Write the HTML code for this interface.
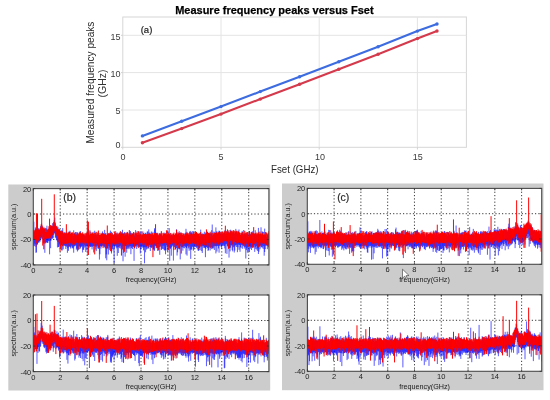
<!DOCTYPE html>
<html><head><meta charset="utf-8"><style>
html,body{margin:0;padding:0;background:#fff;width:550px;height:400px;overflow:hidden}
svg{display:block}
</style></head><body>
<svg width="550" height="400" viewBox="0 0 550 400" font-family="'Liberation Sans', Arial, sans-serif">
<rect width="550" height="400" fill="#fff"/>
<rect x="122.8" y="17.0" width="343.6" height="130.3" fill="#fff" stroke="#d6d6d6" stroke-width="1"/><line x1="221.0" y1="17.0" x2="221.0" y2="147.3" stroke="#e4e4e4" stroke-width="1"/><line x1="122.8" y1="110.0" x2="466.4" y2="110.0" stroke="#e4e4e4" stroke-width="1"/><line x1="319.2" y1="17.0" x2="319.2" y2="147.3" stroke="#e4e4e4" stroke-width="1"/><line x1="122.8" y1="72.6" x2="466.4" y2="72.6" stroke="#e4e4e4" stroke-width="1"/><line x1="417.4" y1="17.0" x2="417.4" y2="147.3" stroke="#e4e4e4" stroke-width="1"/><line x1="122.8" y1="35.3" x2="466.4" y2="35.3" stroke="#e4e4e4" stroke-width="1"/><polyline points="142.4,135.9 181.7,121.3 221.0,106.6 260.3,91.6 299.6,76.7 338.8,61.8 378.1,46.8 417.4,31.1 437.0,24.0" fill="none" stroke="#3d6ce0" stroke-width="2.1" stroke-linejoin="round"/><circle cx="142.4" cy="135.9" r="1.7" fill="#3d6ce0"/><circle cx="181.7" cy="121.3" r="1.7" fill="#3d6ce0"/><circle cx="221.0" cy="106.6" r="1.7" fill="#3d6ce0"/><circle cx="260.3" cy="91.6" r="1.7" fill="#3d6ce0"/><circle cx="299.6" cy="76.7" r="1.7" fill="#3d6ce0"/><circle cx="338.8" cy="61.8" r="1.7" fill="#3d6ce0"/><circle cx="378.1" cy="46.8" r="1.7" fill="#3d6ce0"/><circle cx="417.4" cy="31.1" r="1.7" fill="#3d6ce0"/><circle cx="437.0" cy="24.0" r="1.7" fill="#3d6ce0"/><polyline points="142.4,142.8 181.7,128.6 221.0,114.1 260.3,99.1 299.6,84.2 338.8,69.2 378.1,54.3 417.4,38.6 437.0,31.0" fill="none" stroke="#d43a4b" stroke-width="2.1" stroke-linejoin="round"/><circle cx="142.4" cy="142.8" r="1.7" fill="#d43a4b"/><circle cx="181.7" cy="128.6" r="1.7" fill="#d43a4b"/><circle cx="221.0" cy="114.1" r="1.7" fill="#d43a4b"/><circle cx="260.3" cy="99.1" r="1.7" fill="#d43a4b"/><circle cx="299.6" cy="84.2" r="1.7" fill="#d43a4b"/><circle cx="338.8" cy="69.2" r="1.7" fill="#d43a4b"/><circle cx="378.1" cy="54.3" r="1.7" fill="#d43a4b"/><circle cx="417.4" cy="38.6" r="1.7" fill="#d43a4b"/><circle cx="437.0" cy="31.0" r="1.7" fill="#d43a4b"/><text x="123.1" y="160.0" font-size="9" text-anchor="middle" fill="#3a3a3a">0</text><line x1="122.8" y1="147.3" x2="122.8" y2="149.5" stroke="#d0d0d0" stroke-width="1"/><text x="221.1" y="160.0" font-size="9" text-anchor="middle" fill="#3a3a3a">5</text><line x1="221.0" y1="147.3" x2="221.0" y2="149.5" stroke="#d0d0d0" stroke-width="1"/><text x="320.0" y="160.0" font-size="9" text-anchor="middle" fill="#3a3a3a">10</text><line x1="319.2" y1="147.3" x2="319.2" y2="149.5" stroke="#d0d0d0" stroke-width="1"/><text x="417.8" y="160.0" font-size="9" text-anchor="middle" fill="#3a3a3a">15</text><line x1="417.4" y1="147.3" x2="417.4" y2="149.5" stroke="#d0d0d0" stroke-width="1"/><text x="120.6" y="148.3" font-size="9" text-anchor="end" fill="#3a3a3a">0</text><line x1="121.0" y1="147.3" x2="122.8" y2="147.3" stroke="#d0d0d0" stroke-width="1"/><text x="120.6" y="114.2" font-size="9" text-anchor="end" fill="#3a3a3a">5</text><line x1="121.0" y1="110.0" x2="122.8" y2="110.0" stroke="#d0d0d0" stroke-width="1"/><text x="120.6" y="77.0" font-size="9" text-anchor="end" fill="#3a3a3a">10</text><line x1="121.0" y1="72.6" x2="122.8" y2="72.6" stroke="#d0d0d0" stroke-width="1"/><text x="120.6" y="39.9" font-size="9" text-anchor="end" fill="#3a3a3a">15</text><line x1="121.0" y1="35.3" x2="122.8" y2="35.3" stroke="#d0d0d0" stroke-width="1"/><text x="146.5" y="32.6" font-size="9.5" text-anchor="middle" fill="#222" stroke="#222" stroke-width="0.2">(a)</text><text x="294.8" y="172.6" font-size="10.5" text-anchor="middle" fill="#2a2a2a" textLength="47.5" lengthAdjust="spacingAndGlyphs">Fset (GHz)</text><text transform="translate(93.6,82.6) rotate(-90)" font-size="10.5" text-anchor="middle" fill="#2a2a2a" textLength="122" lengthAdjust="spacingAndGlyphs">Measured frequency peaks</text><text transform="translate(106,83.4) rotate(-90)" font-size="10.5" text-anchor="middle" fill="#333">(GHz)</text><text x="175.2" y="13.7" font-size="11.6" font-weight="bold" fill="#000" stroke="#000" stroke-width="0.25" textLength="198.4" lengthAdjust="spacingAndGlyphs">Measure frequency peaks versus Fset</text>
<defs><filter id="bl" x="0" y="0" width="1" height="1"><feGaussianBlur stdDeviation="0.4"/></filter></defs>
<g filter="url(#bl)">
<rect x="8.3" y="184.5" width="261.9" height="206" fill="#cccccc"/>
<rect x="282" y="183.5" width="261.5" height="206.7" fill="#cccccc"/>
<rect x="33.3" y="188.6" width="235.60" height="76.30" fill="#fff"/><line x1="60.23" y1="188.6" x2="60.23" y2="264.9" stroke="#222" stroke-width="0.9" stroke-dasharray="1.2,2.1"/><line x1="87.15" y1="188.6" x2="87.15" y2="264.9" stroke="#222" stroke-width="0.9" stroke-dasharray="1.2,2.1"/><line x1="114.08" y1="188.6" x2="114.08" y2="264.9" stroke="#222" stroke-width="0.9" stroke-dasharray="1.2,2.1"/><line x1="141.00" y1="188.6" x2="141.00" y2="264.9" stroke="#222" stroke-width="0.9" stroke-dasharray="1.2,2.1"/><line x1="167.93" y1="188.6" x2="167.93" y2="264.9" stroke="#222" stroke-width="0.9" stroke-dasharray="1.2,2.1"/><line x1="194.85" y1="188.6" x2="194.85" y2="264.9" stroke="#222" stroke-width="0.9" stroke-dasharray="1.2,2.1"/><line x1="221.78" y1="188.6" x2="221.78" y2="264.9" stroke="#222" stroke-width="0.9" stroke-dasharray="1.2,2.1"/><line x1="248.71" y1="188.6" x2="248.71" y2="264.9" stroke="#222" stroke-width="0.9" stroke-dasharray="1.2,2.1"/><line x1="33.3" y1="214.03" x2="268.9" y2="214.03" stroke="#222" stroke-width="0.9" stroke-dasharray="1.2,2.1"/><line x1="33.3" y1="239.47" x2="268.9" y2="239.47" stroke="#222" stroke-width="0.9" stroke-dasharray="1.2,2.1"/><svg x="33.3" y="188.6" width="235.60" height="76.30" viewBox="33.3 188.6 235.60 76.30" overflow="hidden"><path d="M33.30 230.8V245.6M33.82 221.7V245.7M34.35 232.0V246.2M34.87 236.1V243.6M35.40 227.4V244.4M35.92 228.7V252.8M36.45 231.6V252.4M36.97 229.2V244.8M37.50 230.1V243.5M38.02 231.6V242.1M38.55 228.2V242.7M39.07 230.5V242.5M39.60 230.0V241.1M40.12 230.0V241.6M40.65 226.1V239.1M41.17 225.7V238.5M41.70 223.6V237.4M42.22 226.9V239.1M42.74 226.9V239.3M43.27 230.2V242.8M43.79 227.4V243.7M44.32 229.1V242.1M44.84 229.1V252.8M45.37 229.1V242.6M45.89 232.0V243.1M46.42 228.4V242.1M46.94 225.7V242.6M47.47 233.1V242.9M47.99 233.2V242.7M48.52 232.5V240.9M49.04 227.5V240.7M49.57 228.6V254.3M50.09 226.3V241.0M50.62 226.5V248.2M51.14 227.0V240.5M51.67 226.2V238.5M52.19 226.3V237.9M52.71 223.2V238.9M53.24 226.2V237.8M53.76 223.3V234.8M54.29 220.0V233.2M54.81 217.7V233.4M55.34 225.1V237.6M55.86 227.3V237.7M56.39 227.6V239.4M56.91 225.7V240.6M57.44 229.2V247.4M57.96 226.9V241.9M58.49 234.2V247.1M59.01 228.7V246.9M59.54 229.4V244.7M60.06 234.8V243.9M60.59 231.9V245.4M61.11 230.0V244.9M61.63 232.5V250.3M62.16 230.8V250.5M62.68 228.1V245.8M63.21 232.5V249.3M63.73 233.8V245.4M64.26 234.8V245.7M64.78 232.0V245.6M65.31 233.8V246.0M65.83 233.8V249.0M66.36 233.7V246.7M66.88 232.3V245.7M67.41 235.8V252.8M67.93 236.8V248.0M68.46 238.6V250.8M68.98 231.3V246.6M69.51 232.0V246.5M70.03 230.7V246.9M70.56 233.8V248.5M71.08 235.3V246.7M71.60 232.9V245.7M72.13 234.0V248.3M72.65 236.4V247.7M73.18 235.7V248.5M73.70 230.3V252.7M74.23 233.2V246.4M74.75 233.1V246.1M75.28 234.5V245.5M75.80 235.3V245.5M76.33 232.1V249.7M76.85 234.2V248.5M77.38 235.5V251.5M77.90 234.2V250.4M78.43 235.8V249.7M78.95 233.6V245.6M79.48 231.7V246.5M80.00 235.7V249.0M80.52 231.1V247.8M81.05 235.4V246.8M81.57 233.7V246.6M82.10 235.7V245.8M82.62 234.5V252.5M83.15 233.9V249.6M83.67 234.9V249.9M84.20 235.5V245.4M84.72 235.4V247.6M85.25 235.7V246.5M85.77 237.2V252.0M86.30 234.6V245.9M86.82 233.2V250.2M87.35 232.2V246.4M87.87 232.7V255.3M88.40 229.0V245.5M88.92 233.4V246.6M89.45 235.0V246.2M89.97 230.2V246.8M90.49 236.2V246.9M91.02 232.1V246.4M91.54 236.0V246.7M92.07 233.3V249.4M92.59 238.1V246.8M93.12 231.8V246.0M93.64 234.4V252.5M94.17 236.0V245.9M94.69 230.7V246.1M95.22 232.5V246.6M95.74 234.0V249.6M96.27 235.6V251.1M96.79 234.2V246.6M97.32 234.4V245.8M97.84 232.6V248.3M98.37 232.5V249.0M98.89 235.4V247.5M99.41 235.2V259.6M99.94 235.2V254.3M100.46 236.8V246.1M100.99 235.3V248.5M101.51 234.3V246.5M102.04 232.7V246.4M102.56 231.4V245.7M103.09 235.7V245.5M103.61 233.0V246.4M104.14 235.0V246.6M104.66 229.9V247.3M105.19 234.2V248.2M105.71 233.0V258.3M106.24 236.0V254.4M106.76 235.7V260.3M107.29 233.7V248.3M107.81 234.9V248.8M108.34 233.4V254.5M108.86 237.3V245.9M109.38 232.7V249.9M109.91 235.9V247.7M110.43 230.6V247.2M110.96 234.7V249.0M111.48 231.9V253.5M112.01 236.9V246.8M112.53 233.2V248.9M113.06 235.9V250.7M113.58 235.1V245.7M114.11 234.0V263.1M114.63 234.7V247.9M115.16 233.6V246.1M115.68 231.1V245.8M116.21 232.8V246.9M116.73 234.3V248.4M117.26 236.9V255.8M117.78 235.7V247.4M118.30 234.5V253.0M118.83 238.4V246.9M119.35 232.6V248.1M119.88 234.6V246.2M120.40 234.6V248.6M120.93 232.2V245.5M121.45 232.2V246.9M121.98 233.7V246.2M122.50 229.8V249.1M123.03 233.5V261.3M123.55 233.4V252.8M124.08 235.9V245.8M124.60 232.0V249.4M125.13 233.1V256.7M125.65 238.1V246.1M126.18 233.9V248.8M126.70 236.7V252.7M127.23 231.8V249.0M127.75 232.5V246.3M128.27 236.4V247.7M128.80 235.9V249.2M129.32 233.9V246.5M129.85 234.6V248.5M130.37 231.0V246.3M130.90 232.6V254.2M131.42 234.7V248.0M131.95 232.9V246.3M132.47 238.2V249.0M133.00 233.5V246.7M133.52 232.3V246.8M134.05 234.5V260.9M134.57 235.6V248.2M135.10 233.0V246.1M135.62 230.1V246.8M136.15 233.7V245.8M136.67 236.4V249.0M137.19 231.2V245.3M137.72 237.9V246.7M138.24 233.1V247.4M138.77 235.3V246.0M139.29 232.2V247.0M139.82 235.8V246.9M140.34 231.4V253.5M140.87 233.5V249.2M141.39 237.6V246.8M141.92 238.1V247.7M142.44 234.8V246.5M142.97 231.5V247.7M143.49 233.9V250.4M144.02 234.0V247.1M144.54 234.6V263.3M145.07 232.6V247.3M145.59 233.3V252.3M146.12 233.5V247.2M146.64 236.1V249.6M147.16 231.7V248.8M147.69 231.3V245.6M148.21 236.8V248.0M148.74 229.4V248.7M149.26 232.6V245.3M149.79 235.1V247.0M150.31 238.0V251.0M150.84 232.8V247.1M151.36 231.5V247.8M151.89 235.3V247.9M152.41 237.8V246.7M152.94 231.8V249.6M153.46 235.3V249.3M153.99 235.1V250.4M154.51 228.3V250.8M155.04 229.8V245.4M155.56 232.2V246.2M156.08 235.0V248.3M156.61 232.8V245.9M157.13 238.8V247.8M157.66 233.9V250.8M158.18 235.7V250.7M158.71 236.7V249.3M159.23 237.3V246.9M159.76 233.0V254.8M160.28 233.9V245.7M160.81 233.8V246.7M161.33 232.4V245.5M161.86 235.8V248.6M162.38 236.6V248.9M162.91 237.7V245.8M163.43 234.8V249.4M163.96 232.6V245.6M164.48 234.4V250.5M165.01 232.8V250.0M165.53 236.5V254.3M166.05 235.1V250.3M166.58 235.7V245.3M167.10 236.7V246.9M167.63 230.3V251.8M168.15 232.4V250.4M168.68 235.7V246.7M169.20 228.1V247.8M169.73 234.2V260.8M170.25 237.1V249.0M170.78 233.2V248.1M171.30 236.8V255.7M171.83 234.9V246.9M172.35 236.2V245.6M172.88 235.1V245.6M173.40 236.8V260.6M173.93 237.3V245.4M174.45 236.1V247.1M174.97 235.5V246.7M175.50 234.7V247.2M176.02 234.0V246.1M176.55 229.3V248.0M177.07 232.5V255.5M177.60 234.6V252.3M178.12 232.6V245.3M178.65 235.5V248.8M179.17 231.2V249.4M179.70 233.0V249.1M180.22 236.9V259.4M180.75 232.6V245.9M181.27 232.5V246.8M181.80 239.6V247.2M182.32 235.6V247.3M182.85 235.1V250.7M183.37 238.0V247.8M183.90 236.3V246.0M184.42 236.0V248.3M184.94 233.1V246.0M185.47 233.5V246.9M185.99 228.8V254.4M186.52 234.4V248.0M187.04 231.8V255.6M187.57 234.0V246.4M188.09 233.6V245.6M188.62 236.5V248.4M189.14 238.0V250.8M189.67 235.7V245.7M190.19 232.6V249.5M190.72 230.9V258.9M191.24 232.9V249.7M191.77 233.1V249.4M192.29 235.8V246.6M192.82 231.0V246.8M193.34 231.4V250.8M193.86 235.2V249.6M194.39 234.2V247.2M194.91 236.1V245.9M195.44 231.1V246.7M195.96 233.3V245.9M196.49 234.3V247.6M197.01 233.3V248.3M197.54 233.2V246.5M198.06 235.0V250.6M198.59 236.6V250.9M199.11 236.7V250.0M199.64 237.7V248.0M200.16 233.2V250.3M200.69 229.6V245.4M201.21 237.6V246.4M201.74 233.8V251.1M202.26 233.3V253.0M202.79 236.1V245.8M203.31 233.7V246.4M203.83 236.4V247.9M204.36 231.7V247.5M204.88 235.3V248.1M205.41 233.9V257.2M205.93 232.7V248.8M206.46 235.0V246.9M206.98 237.8V247.1M207.51 235.2V247.4M208.03 232.6V250.9M208.56 234.3V250.2M209.08 233.6V247.6M209.61 236.3V246.7M210.13 233.8V250.5M210.66 232.6V247.8M211.18 234.0V246.9M211.71 230.2V249.1M212.23 224.5V248.2M212.75 236.1V248.5M213.28 237.3V248.3M213.80 231.6V246.6M214.33 234.1V250.0M214.85 231.9V245.9M215.38 233.0V246.1M215.90 227.4V253.4M216.43 231.3V246.2M216.95 234.6V251.5M217.48 233.2V245.9M218.00 231.5V245.7M218.53 236.2V248.5M219.05 230.6V252.7M219.58 231.1V245.7M220.10 231.5V246.0M220.63 233.8V244.6M221.15 232.7V246.9M221.68 235.5V248.8M222.20 233.1V245.9M222.72 234.3V245.5M223.25 232.8V244.6M223.77 233.9V245.9M224.30 232.3V246.0M224.82 230.4V248.4M225.35 235.4V253.3M225.87 230.7V244.5M226.40 236.6V243.8M226.92 236.9V253.9M227.45 232.7V246.4M227.97 232.4V245.6M228.50 231.4V243.8M229.02 235.6V257.6M229.55 232.4V248.1M230.07 232.0V251.4M230.60 229.7V247.7M231.12 232.4V245.1M231.64 231.1V245.6M232.17 234.2V250.0M232.69 232.6V251.4M233.22 233.2V244.4M233.74 230.9V246.6M234.27 234.4V252.5M234.79 234.1V250.6M235.32 231.3V245.6M235.84 228.9V245.0M236.37 231.8V247.0M236.89 232.1V244.7M237.42 233.5V252.2M237.94 230.6V247.2M238.47 231.8V244.6M238.99 229.5V249.8M239.52 232.4V244.9M240.04 235.1V251.8M240.57 234.4V247.2M241.09 235.3V248.2M241.61 235.9V244.8M242.14 230.9V245.0M242.66 231.9V248.8M243.19 236.1V245.8M243.71 230.0V245.8M244.24 233.2V247.1M244.76 235.7V248.6M245.29 233.0V246.8M245.81 234.0V258.5M246.34 235.4V250.1M246.86 237.8V248.2M247.39 233.8V252.7M247.91 233.4V247.0M248.44 239.2V251.4M248.96 232.9V245.9M249.49 232.3V251.9M250.01 235.0V246.5M250.53 233.8V248.6M251.06 234.6V246.8M251.58 231.8V250.0M252.11 234.8V247.4M252.63 231.3V246.3M253.16 237.0V247.7M253.68 233.6V247.3M254.21 233.7V245.3M254.73 235.5V251.9M255.26 230.2V247.2M255.78 237.0V249.0M256.31 235.8V246.0M256.83 234.1V249.6M257.36 233.5V250.9M257.88 235.9V248.3M258.41 227.9V254.0M258.93 235.3V251.7M259.46 233.9V246.5M259.98 234.6V249.3M260.50 234.9V245.5M261.03 227.3V247.6M261.55 235.1V247.0M262.08 231.4V245.5M262.60 231.8V247.6M263.13 236.3V248.9M263.65 232.0V245.9M264.18 235.4V255.7M264.70 228.6V252.0M265.23 234.9V249.0M265.75 236.0V245.7M266.28 238.0V245.4M266.80 236.8V245.7M267.33 235.3V249.2M267.85 236.2V245.9M268.38 236.6V245.3M268.90 235.5V245.4" fill="none" stroke="#0000ff" stroke-width="0.65"/><path d="M33.30 230.4V240.4M33.82 229.8V239.6M34.35 230.4V239.2M34.87 232.4V239.7M35.40 229.5V240.1M35.92 230.1V246.7M36.45 213.3V243.0M36.97 229.7V241.2M37.50 213.7V244.4M38.02 229.7V240.2M38.55 229.8V240.5M39.07 228.8V240.1M39.60 229.8V239.3M40.12 228.2V237.3M40.65 227.3V235.6M41.17 224.3V237.6M41.70 198.8V232.8M42.22 225.6V234.0M42.74 227.8V245.6M43.27 228.3V236.5M43.79 228.7V249.3M44.32 229.5V238.7M44.84 227.7V243.6M45.37 228.2V239.8M45.89 233.0V238.3M46.42 232.0V238.7M46.94 229.7V238.1M47.47 229.9V238.2M47.99 229.0V238.4M48.52 228.8V238.3M49.04 226.1V237.5M49.57 218.6V240.2M50.09 228.6V237.8M50.62 225.0V236.5M51.14 226.2V238.7M51.67 225.5V236.0M52.19 226.2V235.2M52.71 226.7V234.6M53.24 223.3V232.1M53.76 221.9V231.4M54.29 194.3V231.5M54.81 221.9V229.6M55.34 223.2V233.5M55.86 225.9V233.4M56.39 226.2V234.6M56.91 227.1V236.1M57.44 228.3V237.5M57.96 229.9V240.4M58.49 229.3V238.7M59.01 229.5V242.4M59.54 230.7V241.3M60.06 232.6V251.7M60.59 230.9V248.3M61.11 232.7V241.8M61.63 231.2V244.1M62.16 233.8V242.3M62.68 231.4V246.3M63.21 232.7V242.0M63.73 234.4V242.0M64.26 233.3V244.1M64.78 232.9V243.0M65.31 232.7V244.1M65.83 234.3V243.6M66.36 224.2V243.8M66.88 232.9V242.6M67.41 233.8V246.3M67.93 233.0V246.3M68.46 232.3V242.9M68.98 235.4V242.7M69.51 233.0V245.2M70.03 231.8V243.0M70.56 233.8V242.5M71.08 234.5V243.8M71.60 232.5V243.8M72.13 233.1V244.8M72.65 232.3V242.8M73.18 233.9V243.9M73.70 235.4V244.9M74.23 233.7V244.2M74.75 234.1V244.4M75.28 232.0V243.6M75.80 233.3V242.7M76.33 235.6V242.7M76.85 235.1V242.7M77.38 232.4V242.3M77.90 232.7V243.6M78.43 234.4V242.7M78.95 233.6V249.4M79.48 233.0V243.5M80.00 233.0V243.3M80.52 232.5V242.0M81.05 233.3V243.3M81.57 233.7V243.2M82.10 234.0V243.3M82.62 232.3V242.1M83.15 236.5V243.5M83.67 233.8V245.4M84.20 233.6V243.4M84.72 235.5V242.2M85.25 233.2V245.1M85.77 234.5V243.5M86.30 232.6V242.8M86.82 233.8V243.0M87.35 220.4V244.0M87.87 232.1V243.3M88.40 221.7V255.0M88.92 234.8V247.9M89.45 235.6V242.4M89.97 231.4V242.1M90.49 233.8V242.4M91.02 234.5V243.0M91.54 233.5V243.2M92.07 233.9V243.4M92.59 232.6V243.3M93.12 233.6V242.7M93.64 233.7V242.2M94.17 234.6V242.3M94.69 233.1V254.4M95.22 235.0V242.3M95.74 232.8V244.5M96.27 231.8V242.6M96.79 235.6V244.5M97.32 236.8V243.0M97.84 232.9V243.2M98.37 230.5V247.8M98.89 235.0V245.0M99.41 235.3V245.1M99.94 232.9V244.1M100.46 234.8V243.0M100.99 234.3V243.6M101.51 234.1V243.0M102.04 233.0V242.5M102.56 234.2V243.3M103.09 233.4V248.1M103.61 233.9V243.0M104.14 234.8V244.1M104.66 234.1V243.7M105.19 234.9V245.6M105.71 233.7V243.4M106.24 235.1V248.6M106.76 235.1V246.0M107.29 225.5V242.6M107.81 233.8V242.5M108.34 233.8V243.9M108.86 233.1V244.0M109.38 234.2V242.7M109.91 234.0V242.8M110.43 233.2V251.2M110.96 233.4V242.6M111.48 235.2V251.8M112.01 232.7V243.2M112.53 234.5V243.0M113.06 235.1V244.5M113.58 234.9V243.8M114.11 234.2V242.5M114.63 231.6V244.5M115.16 235.2V242.1M115.68 233.5V242.5M116.21 236.4V243.9M116.73 233.7V242.8M117.26 232.6V244.9M117.78 234.0V247.0M118.30 234.5V242.1M118.83 233.4V243.9M119.35 232.8V242.3M119.88 232.9V243.2M120.40 231.2V242.4M120.93 233.5V243.0M121.45 234.5V255.6M121.98 233.9V249.9M122.50 233.8V244.3M123.03 233.6V244.3M123.55 233.8V244.5M124.08 233.5V243.0M124.60 235.8V251.8M125.13 232.7V242.7M125.65 234.5V243.5M126.18 235.2V245.6M126.70 232.9V244.5M127.23 232.1V242.4M127.75 233.1V247.6M128.27 233.5V244.3M128.80 234.9V244.5M129.32 230.1V242.7M129.85 232.6V243.3M130.37 235.2V244.0M130.90 234.7V242.7M131.42 233.6V246.1M131.95 235.7V243.0M132.47 233.5V243.7M133.00 234.3V242.6M133.52 232.2V242.9M134.05 232.5V242.2M134.57 237.2V248.2M135.10 233.7V243.0M135.62 235.8V243.9M136.15 232.3V244.4M136.67 233.5V244.2M137.19 233.0V242.8M137.72 235.1V243.4M138.24 231.4V242.3M138.77 231.2V248.1M139.29 235.1V243.5M139.82 233.3V242.8M140.34 234.6V242.6M140.87 233.8V242.8M141.39 235.3V243.9M141.92 231.4V242.7M142.44 235.0V243.4M142.97 234.1V244.9M143.49 233.1V244.1M144.02 234.6V244.8M144.54 234.0V242.8M145.07 234.4V243.1M145.59 233.9V244.8M146.12 235.2V243.8M146.64 234.3V246.3M147.16 234.0V242.3M147.69 234.2V245.5M148.21 233.7V247.6M148.74 234.1V244.9M149.26 232.8V242.8M149.79 234.1V242.7M150.31 233.9V244.8M150.84 234.6V243.1M151.36 234.4V242.5M151.89 235.3V242.8M152.41 233.1V244.4M152.94 235.2V257.2M153.46 234.7V242.9M153.99 233.3V244.7M154.51 233.2V242.8M155.04 234.2V243.5M155.56 224.2V244.0M156.08 233.2V242.9M156.61 233.4V247.9M157.13 235.5V243.2M157.66 232.8V247.1M158.18 234.6V243.2M158.71 235.2V250.1M159.23 233.6V243.7M159.76 234.0V246.8M160.28 233.5V242.7M160.81 235.8V243.4M161.33 231.1V249.9M161.86 234.5V242.8M162.38 235.7V243.1M162.91 232.9V243.9M163.43 234.2V244.3M163.96 233.3V242.8M164.48 234.2V242.8M165.01 233.8V242.9M165.53 233.4V246.6M166.05 234.7V244.7M166.58 230.3V242.8M167.10 234.3V242.6M167.63 234.8V246.8M168.15 233.6V243.2M168.68 233.2V250.1M169.20 234.0V246.9M169.73 234.8V243.5M170.25 232.9V244.3M170.78 236.0V244.1M171.30 235.0V242.5M171.83 233.7V242.9M172.35 235.5V242.3M172.88 233.7V243.6M173.40 233.8V242.5M173.93 232.6V250.1M174.45 234.9V242.8M174.97 234.5V243.3M175.50 233.3V249.5M176.02 236.9V242.6M176.55 229.8V245.4M177.07 234.6V243.1M177.60 234.7V243.3M178.12 232.6V242.9M178.65 233.8V248.1M179.17 236.0V243.4M179.70 232.9V243.3M180.22 232.7V243.7M180.75 234.3V242.2M181.27 234.1V253.6M181.80 233.1V242.9M182.32 234.9V244.0M182.85 233.2V246.4M183.37 233.5V242.5M183.90 234.6V243.5M184.42 235.5V242.9M184.94 234.0V244.3M185.47 234.9V242.4M185.99 232.5V242.9M186.52 233.6V242.8M187.04 232.7V243.5M187.57 233.6V243.3M188.09 233.4V243.7M188.62 234.7V243.6M189.14 232.9V247.2M189.67 231.5V243.8M190.19 234.1V244.1M190.72 234.5V243.6M191.24 232.1V242.7M191.77 234.4V243.7M192.29 234.6V242.5M192.82 233.6V242.9M193.34 234.1V242.6M193.86 231.9V243.3M194.39 233.7V244.0M194.91 233.3V242.3M195.44 232.5V246.8M195.96 234.1V244.5M196.49 231.9V242.7M197.01 234.5V246.1M197.54 234.8V243.2M198.06 234.2V249.3M198.59 233.9V245.0M199.11 232.9V242.4M199.64 233.8V247.0M200.16 235.9V243.4M200.69 232.0V246.5M201.21 233.8V243.9M201.74 234.6V245.7M202.26 234.9V243.1M202.79 234.2V244.0M203.31 234.0V245.1M203.83 235.1V244.4M204.36 234.9V245.3M204.88 234.0V244.9M205.41 234.4V242.5M205.93 232.5V244.9M206.46 229.4V242.5M206.98 233.7V245.6M207.51 231.7V247.8M208.03 235.4V243.0M208.56 232.9V243.0M209.08 233.8V246.7M209.61 233.1V244.1M210.13 231.7V248.2M210.66 236.6V242.2M211.18 233.3V244.1M211.71 235.1V247.2M212.23 232.9V242.4M212.75 235.3V242.1M213.28 234.3V243.8M213.80 233.3V246.0M214.33 232.8V242.9M214.85 233.5V243.4M215.38 234.5V244.2M215.90 234.2V244.2M216.43 232.3V242.0M216.95 233.4V242.7M217.48 235.5V241.9M218.00 232.2V245.0M218.53 232.7V243.9M219.05 232.1V242.7M219.58 232.2V242.0M220.10 232.0V241.6M220.63 234.4V242.7M221.15 232.2V242.0M221.68 233.5V243.5M222.20 231.9V242.8M222.72 231.4V241.2M223.25 233.6V241.6M223.77 232.6V241.3M224.30 232.4V240.9M224.82 230.9V241.0M225.35 225.7V241.9M225.87 233.8V240.7M226.40 231.6V241.4M226.92 231.2V241.1M227.45 229.4V240.6M227.97 234.1V241.2M228.50 232.6V248.8M229.02 230.2V241.0M229.55 233.6V241.6M230.07 233.4V240.6M230.60 231.2V240.6M231.12 230.5V241.3M231.64 232.7V240.5M232.17 231.2V240.3M232.69 231.7V244.4M233.22 230.0V247.3M233.74 231.9V240.8M234.27 230.7V242.0M234.79 233.2V241.1M235.32 232.3V243.0M235.84 232.3V241.2M236.37 230.8V243.4M236.89 231.6V241.0M237.42 233.3V240.9M237.94 231.6V242.4M238.47 231.6V242.6M238.99 232.8V241.1M239.52 233.0V242.0M240.04 233.0V241.9M240.57 235.0V243.0M241.09 232.7V242.8M241.61 232.7V243.3M242.14 234.2V243.2M242.66 232.2V244.3M243.19 234.9V242.4M243.71 233.9V242.5M244.24 233.9V245.7M244.76 230.8V243.3M245.29 235.4V242.3M245.81 232.7V242.2M246.34 232.3V242.0M246.86 233.0V243.9M247.39 232.0V243.9M247.91 234.8V242.5M248.44 236.5V246.8M248.96 232.6V242.6M249.49 231.0V242.5M250.01 234.1V242.8M250.53 235.2V243.0M251.06 232.3V242.7M251.58 232.6V242.9M252.11 234.6V243.9M252.63 232.6V247.8M253.16 233.6V244.0M253.68 227.1V243.8M254.21 233.6V243.8M254.73 234.0V243.4M255.26 232.9V243.4M255.78 233.3V245.5M256.31 234.2V242.2M256.83 232.5V242.4M257.36 234.5V243.2M257.88 233.4V242.6M258.41 233.2V247.4M258.93 231.9V243.9M259.46 234.4V242.4M259.98 231.5V246.1M260.50 233.5V242.5M261.03 234.0V242.4M261.55 234.6V244.5M262.08 233.0V243.7M262.60 233.7V243.2M263.13 235.0V243.1M263.65 235.2V245.0M264.18 234.4V242.6M264.70 234.6V243.7M265.23 232.4V242.6M265.75 232.0V242.8M266.28 232.6V244.8M266.80 233.3V245.1M267.33 234.3V245.0M267.85 233.7V244.9M268.38 232.6V247.3M268.90 231.0V244.2" fill="none" stroke="#ff0000" stroke-width="1.0"/></svg><rect x="33.3" y="188.6" width="235.60" height="76.30" fill="none" stroke="#4a4a4a" stroke-width="1.1"/><line x1="33.30" y1="264.9" x2="33.30" y2="262.9" stroke="#333" stroke-width="0.8"/><line x1="33.30" y1="188.6" x2="33.30" y2="190.6" stroke="#333" stroke-width="0.8"/><text x="33.30" y="272.90" font-size="7.5" text-anchor="middle" fill="#222">0</text><line x1="60.23" y1="264.9" x2="60.23" y2="262.9" stroke="#333" stroke-width="0.8"/><line x1="60.23" y1="188.6" x2="60.23" y2="190.6" stroke="#333" stroke-width="0.8"/><text x="60.23" y="272.90" font-size="7.5" text-anchor="middle" fill="#222">2</text><line x1="87.15" y1="264.9" x2="87.15" y2="262.9" stroke="#333" stroke-width="0.8"/><line x1="87.15" y1="188.6" x2="87.15" y2="190.6" stroke="#333" stroke-width="0.8"/><text x="87.15" y="272.90" font-size="7.5" text-anchor="middle" fill="#222">4</text><line x1="114.08" y1="264.9" x2="114.08" y2="262.9" stroke="#333" stroke-width="0.8"/><line x1="114.08" y1="188.6" x2="114.08" y2="190.6" stroke="#333" stroke-width="0.8"/><text x="114.08" y="272.90" font-size="7.5" text-anchor="middle" fill="#222">6</text><line x1="141.00" y1="264.9" x2="141.00" y2="262.9" stroke="#333" stroke-width="0.8"/><line x1="141.00" y1="188.6" x2="141.00" y2="190.6" stroke="#333" stroke-width="0.8"/><text x="141.00" y="272.90" font-size="7.5" text-anchor="middle" fill="#222">8</text><line x1="167.93" y1="264.9" x2="167.93" y2="262.9" stroke="#333" stroke-width="0.8"/><line x1="167.93" y1="188.6" x2="167.93" y2="190.6" stroke="#333" stroke-width="0.8"/><text x="167.93" y="272.90" font-size="7.5" text-anchor="middle" fill="#222">10</text><line x1="194.85" y1="264.9" x2="194.85" y2="262.9" stroke="#333" stroke-width="0.8"/><line x1="194.85" y1="188.6" x2="194.85" y2="190.6" stroke="#333" stroke-width="0.8"/><text x="194.85" y="272.90" font-size="7.5" text-anchor="middle" fill="#222">12</text><line x1="221.78" y1="264.9" x2="221.78" y2="262.9" stroke="#333" stroke-width="0.8"/><line x1="221.78" y1="188.6" x2="221.78" y2="190.6" stroke="#333" stroke-width="0.8"/><text x="221.78" y="272.90" font-size="7.5" text-anchor="middle" fill="#222">14</text><line x1="248.71" y1="264.9" x2="248.71" y2="262.9" stroke="#333" stroke-width="0.8"/><line x1="248.71" y1="188.6" x2="248.71" y2="190.6" stroke="#333" stroke-width="0.8"/><text x="248.71" y="272.90" font-size="7.5" text-anchor="middle" fill="#222">16</text><line x1="33.3" y1="188.60" x2="35.3" y2="188.60" stroke="#333" stroke-width="0.8"/><line x1="268.9" y1="188.60" x2="266.9" y2="188.60" stroke="#333" stroke-width="0.8"/><text x="31.30" y="191.50" font-size="7.5" text-anchor="end" fill="#222">20</text><line x1="33.3" y1="214.03" x2="35.3" y2="214.03" stroke="#333" stroke-width="0.8"/><line x1="268.9" y1="214.03" x2="266.9" y2="214.03" stroke="#333" stroke-width="0.8"/><text x="31.30" y="216.93" font-size="7.5" text-anchor="end" fill="#222">0</text><line x1="33.3" y1="239.47" x2="35.3" y2="239.47" stroke="#333" stroke-width="0.8"/><line x1="268.9" y1="239.47" x2="266.9" y2="239.47" stroke="#333" stroke-width="0.8"/><text x="31.30" y="242.37" font-size="7.5" text-anchor="end" fill="#222">-20</text><line x1="33.3" y1="264.90" x2="35.3" y2="264.90" stroke="#333" stroke-width="0.8"/><line x1="268.9" y1="264.90" x2="266.9" y2="264.90" stroke="#333" stroke-width="0.8"/><text x="31.30" y="267.80" font-size="7.5" text-anchor="end" fill="#222">-40</text><text x="151.10" y="282.40" font-size="7.2" text-anchor="middle" fill="#222">frequency(GHz)</text><text transform="translate(15.70,226.75) rotate(-90)" font-size="7.2" text-anchor="middle" fill="#222">spectrum(a.u.)</text><text x="63.29" y="201.20" font-size="10.5" fill="#2a2a2a" stroke="#2a2a2a" stroke-width="0.2">(b)</text><rect x="33.3" y="295.0" width="235.60" height="76.60" fill="#fff"/><line x1="60.23" y1="295.0" x2="60.23" y2="371.6" stroke="#222" stroke-width="0.9" stroke-dasharray="1.2,2.1"/><line x1="87.15" y1="295.0" x2="87.15" y2="371.6" stroke="#222" stroke-width="0.9" stroke-dasharray="1.2,2.1"/><line x1="114.08" y1="295.0" x2="114.08" y2="371.6" stroke="#222" stroke-width="0.9" stroke-dasharray="1.2,2.1"/><line x1="141.00" y1="295.0" x2="141.00" y2="371.6" stroke="#222" stroke-width="0.9" stroke-dasharray="1.2,2.1"/><line x1="167.93" y1="295.0" x2="167.93" y2="371.6" stroke="#222" stroke-width="0.9" stroke-dasharray="1.2,2.1"/><line x1="194.85" y1="295.0" x2="194.85" y2="371.6" stroke="#222" stroke-width="0.9" stroke-dasharray="1.2,2.1"/><line x1="221.78" y1="295.0" x2="221.78" y2="371.6" stroke="#222" stroke-width="0.9" stroke-dasharray="1.2,2.1"/><line x1="248.71" y1="295.0" x2="248.71" y2="371.6" stroke="#222" stroke-width="0.9" stroke-dasharray="1.2,2.1"/><line x1="33.3" y1="320.53" x2="268.9" y2="320.53" stroke="#222" stroke-width="0.9" stroke-dasharray="1.2,2.1"/><line x1="33.3" y1="346.07" x2="268.9" y2="346.07" stroke="#222" stroke-width="0.9" stroke-dasharray="1.2,2.1"/><svg x="33.3" y="295.0" width="235.60" height="76.60" viewBox="33.3 295.0 235.60 76.60" overflow="hidden"><path d="M33.30 337.2V347.3M33.82 326.9V349.2M34.35 332.4V350.0M34.87 334.4V351.5M35.40 339.1V349.3M35.92 335.6V349.0M36.45 336.8V347.2M36.97 335.1V363.9M37.50 338.5V348.9M38.02 334.4V352.9M38.55 334.1V347.0M39.07 330.8V351.3M39.60 332.5V351.5M40.12 330.8V345.6M40.65 332.9V345.8M41.17 322.9V342.2M41.70 330.4V338.8M42.22 325.6V343.7M42.74 330.9V341.5M43.27 333.9V343.9M43.79 334.6V345.8M44.32 335.3V348.2M44.84 333.7V347.6M45.37 333.0V346.1M45.89 331.9V351.8M46.42 338.8V353.5M46.94 335.1V351.2M47.47 337.0V352.9M47.99 333.5V352.8M48.52 339.4V349.3M49.04 335.7V351.2M49.57 334.5V349.3M50.09 337.8V347.1M50.62 332.6V347.9M51.14 334.0V348.4M51.67 331.6V346.0M52.19 331.8V345.5M52.71 335.4V346.2M53.24 334.5V351.8M53.76 332.6V344.8M54.29 329.8V347.8M54.81 330.1V343.5M55.34 334.4V344.3M55.86 335.1V349.2M56.39 336.2V348.1M56.91 331.3V346.6M57.44 336.4V347.4M57.96 336.7V348.3M58.49 332.7V350.6M59.01 338.3V349.3M59.54 338.1V357.5M60.06 336.8V356.6M60.59 339.9V349.5M61.11 338.8V349.6M61.63 338.1V352.6M62.16 336.6V351.8M62.68 341.0V351.9M63.21 329.6V353.3M63.73 339.1V350.0M64.26 338.1V352.5M64.78 336.7V350.3M65.31 337.1V350.3M65.83 336.3V352.0M66.36 338.2V353.4M66.88 338.6V359.8M67.41 337.9V353.2M67.93 340.6V363.6M68.46 336.2V355.3M68.98 340.2V355.0M69.51 341.3V351.3M70.03 334.5V353.5M70.56 339.0V350.5M71.08 341.2V353.5M71.60 335.0V350.2M72.13 339.5V353.0M72.65 336.7V351.4M73.18 340.6V353.3M73.70 330.7V351.3M74.23 342.4V351.3M74.75 342.8V360.5M75.28 340.9V358.8M75.80 339.1V352.8M76.33 337.4V354.7M76.85 334.0V351.4M77.38 341.1V351.1M77.90 337.0V352.4M78.43 340.3V351.3M78.95 339.4V357.6M79.48 342.1V352.4M80.00 342.1V353.6M80.52 340.7V358.0M81.05 341.6V353.4M81.57 335.1V351.3M82.10 340.6V358.9M82.62 336.7V353.3M83.15 338.9V361.2M83.67 338.9V353.7M84.20 336.9V352.5M84.72 338.2V365.3M85.25 339.4V358.1M85.77 339.5V352.3M86.30 339.6V358.6M86.82 337.1V352.2M87.35 337.8V352.9M87.87 338.6V352.3M88.40 335.3V351.1M88.92 340.5V351.0M89.45 338.4V368.0M89.97 342.3V355.3M90.49 336.7V351.3M91.02 339.3V356.2M91.54 339.1V352.6M92.07 338.3V355.7M92.59 339.6V354.5M93.12 340.1V351.5M93.64 337.1V356.9M94.17 339.3V351.3M94.69 341.5V361.0M95.22 338.7V351.8M95.74 343.1V352.9M96.27 336.3V352.5M96.79 340.0V352.9M97.32 339.6V351.3M97.84 335.1V355.2M98.37 335.3V352.2M98.89 339.5V358.8M99.41 338.5V357.1M99.94 337.5V351.7M100.46 336.3V355.0M100.99 340.1V360.1M101.51 339.5V354.1M102.04 337.3V351.1M102.56 339.3V361.6M103.09 338.3V352.7M103.61 338.6V351.4M104.14 342.2V356.1M104.66 341.7V352.7M105.19 345.3V354.1M105.71 340.5V353.2M106.24 337.2V354.4M106.76 342.2V356.7M107.29 337.5V353.1M107.81 334.9V355.5M108.34 340.1V351.8M108.86 340.1V353.8M109.38 339.9V351.6M109.91 341.8V353.6M110.43 340.7V362.4M110.96 340.2V360.7M111.48 338.9V362.7M112.01 338.5V356.0M112.53 341.7V357.3M113.06 338.5V355.2M113.58 341.8V354.1M114.11 340.6V360.6M114.63 339.5V352.9M115.16 340.3V355.5M115.68 340.5V355.4M116.21 339.7V351.6M116.73 341.4V352.4M117.26 341.6V357.7M117.78 340.7V355.0M118.30 338.4V352.6M118.83 340.6V351.9M119.35 336.5V354.8M119.88 339.9V353.9M120.40 346.5V353.8M120.93 341.3V359.0M121.45 337.0V357.5M121.98 340.4V362.1M122.50 341.4V351.9M123.03 342.3V355.0M123.55 337.8V353.8M124.08 338.5V354.5M124.60 339.2V357.1M125.13 339.7V357.3M125.65 337.6V359.1M126.18 338.9V353.1M126.70 343.1V354.9M127.23 339.0V353.1M127.75 340.3V359.4M128.27 340.9V354.8M128.80 339.1V357.5M129.32 340.6V352.3M129.85 346.7V352.9M130.37 337.5V355.6M130.90 338.6V352.6M131.42 341.0V353.0M131.95 341.5V353.7M132.47 340.3V353.9M133.00 343.4V353.3M133.52 340.2V353.5M134.05 341.3V355.1M134.57 341.5V356.1M135.10 342.7V360.9M135.62 342.2V352.4M136.15 338.6V352.6M136.67 338.1V354.9M137.19 339.8V353.4M137.72 340.9V353.0M138.24 342.6V353.8M138.77 339.4V363.1M139.29 337.5V366.1M139.82 344.1V354.4M140.34 335.2V355.8M140.87 345.2V355.9M141.39 341.5V355.3M141.92 340.0V356.2M142.44 343.6V356.9M142.97 343.9V354.4M143.49 340.4V353.0M144.02 339.0V363.0M144.54 341.8V354.4M145.07 338.1V353.5M145.59 342.4V352.9M146.12 337.2V352.4M146.64 340.6V358.4M147.16 340.3V354.1M147.69 339.6V353.1M148.21 340.2V359.3M148.74 337.1V354.5M149.26 336.3V353.2M149.79 339.7V353.0M150.31 341.2V352.5M150.84 343.2V354.9M151.36 342.4V353.6M151.89 335.6V359.7M152.41 341.0V354.4M152.94 340.9V364.1M153.46 340.8V354.7M153.99 338.6V353.9M154.51 343.6V358.2M155.04 342.9V354.4M155.56 338.5V354.6M156.08 339.1V353.6M156.61 341.9V352.4M157.13 338.2V353.2M157.66 342.2V353.4M158.18 341.3V352.5M158.71 344.6V353.1M159.23 339.1V352.1M159.76 340.8V352.3M160.28 338.6V354.1M160.81 339.4V354.9M161.33 340.6V357.8M161.86 340.5V355.1M162.38 338.4V353.1M162.91 341.1V356.4M163.43 341.1V359.4M163.96 340.7V353.2M164.48 338.6V352.1M165.01 338.9V358.9M165.53 336.9V357.2M166.05 340.9V354.3M166.58 338.2V352.6M167.10 342.1V353.2M167.63 339.5V353.5M168.15 340.5V355.5M168.68 337.2V355.4M169.20 339.5V354.5M169.73 341.7V354.8M170.25 339.6V355.5M170.78 340.0V354.4M171.30 341.4V360.7M171.83 341.3V355.4M172.35 342.7V354.0M172.88 335.1V356.4M173.40 340.5V353.4M173.93 338.7V354.2M174.45 343.1V353.5M174.97 342.9V354.8M175.50 341.0V356.1M176.02 341.0V355.0M176.55 339.1V354.1M177.07 342.8V357.9M177.60 339.6V355.2M178.12 337.6V353.8M178.65 342.6V352.9M179.17 338.9V352.3M179.70 342.7V353.4M180.22 340.0V353.9M180.75 340.0V352.5M181.27 337.2V355.1M181.80 342.1V355.1M182.32 340.4V356.0M182.85 338.6V353.1M183.37 343.1V352.5M183.90 340.7V355.7M184.42 342.5V353.5M184.94 342.2V353.5M185.47 339.3V355.9M185.99 339.3V357.7M186.52 335.5V352.7M187.04 337.9V355.9M187.57 338.1V354.2M188.09 341.1V357.5M188.62 341.3V361.6M189.14 340.4V356.2M189.67 345.4V354.5M190.19 337.3V353.6M190.72 342.1V360.8M191.24 342.9V352.4M191.77 341.7V352.6M192.29 339.0V353.9M192.82 338.2V352.6M193.34 341.5V353.0M193.86 339.9V353.0M194.39 340.9V352.1M194.91 342.8V353.2M195.44 340.4V366.7M195.96 340.7V352.9M196.49 343.9V354.4M197.01 338.5V354.5M197.54 344.0V354.0M198.06 340.3V359.8M198.59 342.9V362.0M199.11 342.4V355.4M199.64 342.2V353.9M200.16 339.3V354.3M200.69 343.3V356.1M201.21 341.2V355.5M201.74 337.6V355.0M202.26 342.2V354.2M202.79 340.9V356.0M203.31 339.4V355.4M203.83 342.0V353.2M204.36 339.8V352.9M204.88 342.1V355.0M205.41 339.4V353.8M205.93 340.7V355.4M206.46 342.7V366.2M206.98 337.9V355.0M207.51 341.0V357.4M208.03 341.4V361.5M208.56 342.7V356.6M209.08 341.8V352.9M209.61 341.0V355.5M210.13 340.4V356.4M210.66 338.6V353.4M211.18 343.5V352.7M211.71 341.5V367.4M212.23 338.4V353.8M212.75 340.4V358.3M213.28 340.0V353.0M213.80 337.5V359.4M214.33 340.1V360.0M214.85 339.9V356.6M215.38 340.9V353.1M215.90 337.2V353.9M216.43 338.7V354.4M216.95 342.3V354.3M217.48 339.7V353.3M218.00 338.4V367.4M218.53 338.6V354.3M219.05 339.4V353.7M219.58 341.1V358.8M220.10 341.6V356.6M220.63 344.5V353.4M221.15 339.3V352.5M221.68 341.1V354.3M222.20 341.5V352.4M222.72 339.3V352.2M223.25 342.2V352.3M223.77 342.0V353.8M224.30 342.2V368.3M224.82 343.6V367.8M225.35 335.9V354.0M225.87 341.2V358.9M226.40 341.5V356.6M226.92 339.0V352.2M227.45 347.3V353.1M227.97 340.9V353.7M228.50 340.8V353.7M229.02 342.8V359.0M229.55 339.9V352.4M230.07 345.0V354.0M230.60 340.8V355.1M231.12 339.1V353.0M231.64 345.4V357.2M232.17 343.9V353.7M232.69 341.3V352.4M233.22 341.0V352.9M233.74 342.3V354.2M234.27 340.3V353.4M234.79 340.5V352.4M235.32 343.8V354.7M235.84 341.3V355.4M236.37 343.7V354.0M236.89 345.4V355.4M237.42 346.1V357.9M237.94 339.0V358.0M238.47 341.4V357.6M238.99 337.2V359.6M239.52 344.2V357.9M240.04 341.9V356.9M240.57 340.5V357.9M241.09 341.5V361.0M241.61 332.4V354.6M242.14 340.9V362.4M242.66 342.4V358.4M243.19 345.9V353.3M243.71 343.1V354.0M244.24 337.6V358.0M244.76 339.6V354.2M245.29 338.3V354.8M245.81 342.3V354.5M246.34 341.5V353.7M246.86 342.9V367.0M247.39 340.3V355.2M247.91 341.0V357.0M248.44 340.2V362.8M248.96 337.5V355.0M249.49 342.8V355.3M250.01 339.6V352.1M250.53 342.2V362.6M251.06 338.8V352.6M251.58 342.0V352.5M252.11 341.2V355.5M252.63 329.8V352.8M253.16 337.7V353.1M253.68 341.1V360.6M254.21 342.1V355.0M254.73 343.5V362.1M255.26 340.5V357.2M255.78 342.8V356.1M256.31 342.1V353.7M256.83 341.1V353.6M257.36 339.7V353.0M257.88 342.5V363.6M258.41 339.7V354.6M258.93 333.1V353.1M259.46 344.1V353.9M259.98 338.3V352.4M260.50 336.7V353.1M261.03 342.3V356.4M261.55 339.8V352.3M262.08 343.9V354.2M262.60 340.4V353.9M263.13 341.7V355.2M263.65 340.4V355.5M264.18 343.0V362.3M264.70 342.8V357.1M265.23 342.0V355.0M265.75 342.5V352.5M266.28 337.8V357.0M266.80 341.5V356.0M267.33 343.4V360.5M267.85 341.4V358.1M268.38 340.1V353.9M268.90 343.9V353.2" fill="none" stroke="#0000ff" stroke-width="0.65"/><path d="M33.30 332.9V353.4M33.82 338.8V345.3M34.35 334.9V352.3M34.87 336.1V344.4M35.40 314.2V344.4M35.92 335.5V348.8M36.45 337.7V351.4M36.97 313.5V345.1M37.50 335.9V343.3M38.02 330.3V343.2M38.55 333.9V343.7M39.07 334.1V342.6M39.60 333.2V342.3M40.12 332.3V340.8M40.65 330.8V339.6M41.17 327.6V335.7M41.70 301.0V334.7M42.22 327.8V341.4M42.74 328.6V341.6M43.27 331.9V340.2M43.79 332.8V341.3M44.32 331.6V344.9M44.84 333.4V342.7M45.37 335.0V342.8M45.89 334.8V347.2M46.42 334.0V344.8M46.94 332.3V345.1M47.47 335.1V343.4M47.99 333.6V348.1M48.52 333.4V352.9M49.04 335.8V344.4M49.57 334.9V347.5M50.09 324.7V347.3M50.62 333.5V350.4M51.14 333.9V348.0M51.67 332.8V342.2M52.19 337.0V343.3M52.71 331.7V341.8M53.24 333.7V348.3M53.76 334.0V340.5M54.29 305.9V340.4M54.81 330.6V342.2M55.34 333.2V343.3M55.86 334.8V354.1M56.39 334.1V345.9M56.91 335.0V344.7M57.44 333.7V345.6M57.96 335.1V345.4M58.49 336.3V346.5M59.01 335.5V346.4M59.54 337.4V345.7M60.06 338.5V347.9M60.59 336.8V353.5M61.11 336.9V346.7M61.63 338.0V346.6M62.16 338.8V348.7M62.68 337.6V346.5M63.21 341.1V353.3M63.73 337.1V346.8M64.26 337.4V347.0M64.78 340.2V349.7M65.31 338.0V346.5M65.83 339.3V346.9M66.36 337.2V350.5M66.88 332.0V347.6M67.41 339.4V347.4M67.93 337.3V346.9M68.46 336.8V349.1M68.98 341.0V348.2M69.51 338.9V347.6M70.03 337.9V355.6M70.56 339.1V353.9M71.08 336.4V346.9M71.60 339.9V347.5M72.13 338.0V348.0M72.65 339.8V348.0M73.18 336.7V348.7M73.70 338.5V353.5M74.23 339.0V352.9M74.75 340.7V347.5M75.28 336.4V348.2M75.80 337.6V347.4M76.33 337.6V347.4M76.85 337.2V355.3M77.38 338.2V347.1M77.90 339.5V354.7M78.43 339.7V351.9M78.95 339.7V349.3M79.48 337.0V355.8M80.00 340.6V347.7M80.52 339.5V347.5M81.05 339.2V348.2M81.57 338.5V349.1M82.10 338.1V349.3M82.62 340.4V347.8M83.15 337.9V348.9M83.67 338.9V347.4M84.20 337.3V352.3M84.72 337.9V347.5M85.25 338.6V348.5M85.77 339.3V348.5M86.30 338.6V349.7M86.82 339.3V348.0M87.35 328.2V349.6M87.87 340.0V349.1M88.40 338.8V348.2M88.92 339.2V347.5M89.45 338.4V349.0M89.97 338.8V348.7M90.49 335.8V357.1M91.02 337.2V349.7M91.54 337.2V348.8M92.07 341.7V351.0M92.59 339.6V351.8M93.12 339.9V348.9M93.64 338.5V349.0M94.17 342.1V348.2M94.69 337.7V347.9M95.22 337.9V352.1M95.74 340.9V348.8M96.27 340.5V348.0M96.79 340.3V348.7M97.32 339.2V348.3M97.84 335.1V348.3M98.37 336.7V350.0M98.89 339.6V362.5M99.41 338.4V362.4M99.94 339.2V349.5M100.46 337.2V351.8M100.99 338.5V348.8M101.51 337.7V350.6M102.04 340.8V348.4M102.56 339.7V348.4M103.09 340.5V349.2M103.61 337.6V349.3M104.14 338.7V348.9M104.66 339.9V350.7M105.19 340.1V349.6M105.71 338.9V353.5M106.24 340.5V362.9M106.76 340.8V348.3M107.29 339.0V350.3M107.81 336.5V349.0M108.34 340.0V349.1M108.86 340.4V349.1M109.38 341.2V349.4M109.91 341.4V351.3M110.43 339.0V348.2M110.96 338.6V348.5M111.48 339.7V349.7M112.01 339.3V348.5M112.53 339.6V349.1M113.06 337.8V349.1M113.58 341.8V349.6M114.11 340.4V349.2M114.63 339.7V349.3M115.16 340.9V349.8M115.68 340.5V348.7M116.21 340.9V352.7M116.73 340.3V350.0M117.26 338.8V348.7M117.78 340.5V349.2M118.30 340.1V353.4M118.83 338.9V349.9M119.35 339.2V350.5M119.88 337.8V349.0M120.40 342.7V349.2M120.93 338.9V351.5M121.45 340.7V350.0M121.98 339.9V349.6M122.50 339.0V348.5M123.03 338.7V348.7M123.55 338.8V362.8M124.08 339.9V355.2M124.60 338.1V349.5M125.13 340.5V349.4M125.65 340.4V348.8M126.18 339.2V358.6M126.70 340.9V351.9M127.23 337.5V349.0M127.75 338.9V349.7M128.27 337.5V349.6M128.80 340.3V358.7M129.32 340.8V349.1M129.85 340.1V350.5M130.37 339.4V358.4M130.90 341.1V349.8M131.42 339.9V358.0M131.95 340.4V349.8M132.47 338.3V350.1M133.00 341.2V349.5M133.52 339.1V355.0M134.05 341.3V350.8M134.57 341.7V349.9M135.10 341.3V350.2M135.62 342.0V349.1M136.15 340.3V350.5M136.67 339.1V349.4M137.19 340.2V349.4M137.72 339.6V351.2M138.24 338.4V351.2M138.77 340.1V349.1M139.29 340.2V349.9M139.82 340.8V349.8M140.34 342.5V349.0M140.87 339.5V349.0M141.39 342.7V349.2M141.92 339.6V351.6M142.44 340.5V350.2M142.97 339.0V350.4M143.49 340.5V348.9M144.02 341.5V349.5M144.54 340.0V364.8M145.07 341.2V349.3M145.59 340.7V351.5M146.12 340.4V349.6M146.64 340.6V354.3M147.16 340.7V350.9M147.69 341.5V350.1M148.21 340.7V354.6M148.74 343.2V349.5M149.26 340.6V349.9M149.79 342.0V349.9M150.31 339.0V349.0M150.84 338.8V352.2M151.36 342.9V352.2M151.89 340.3V350.0M152.41 340.6V351.8M152.94 341.8V351.9M153.46 339.8V349.3M153.99 341.0V350.6M154.51 342.7V351.1M155.04 340.8V349.6M155.56 340.6V349.0M156.08 340.3V357.3M156.61 342.0V350.4M157.13 339.7V350.0M157.66 339.5V349.0M158.18 341.9V349.6M158.71 341.3V350.7M159.23 340.5V349.3M159.76 341.2V349.9M160.28 338.2V349.6M160.81 340.2V353.3M161.33 341.7V350.5M161.86 341.5V351.1M162.38 340.5V348.9M162.91 337.5V350.0M163.43 340.7V350.8M163.96 340.3V351.6M164.48 339.8V349.0M165.01 340.5V350.9M165.53 337.5V349.3M166.05 341.1V354.0M166.58 339.5V349.5M167.10 340.2V351.2M167.63 339.7V351.6M168.15 341.9V349.1M168.68 338.2V349.1M169.20 340.6V354.3M169.73 340.4V351.0M170.25 341.6V349.6M170.78 341.4V350.8M171.30 339.7V355.2M171.83 339.2V360.3M172.35 339.5V351.1M172.88 338.9V355.3M173.40 339.5V360.5M173.93 340.4V357.9M174.45 339.4V349.1M174.97 339.7V355.3M175.50 340.6V350.4M176.02 339.5V358.5M176.55 338.8V350.5M177.07 340.1V353.3M177.60 340.9V350.1M178.12 339.5V352.6M178.65 338.0V350.0M179.17 340.7V351.0M179.70 340.6V349.7M180.22 340.6V348.9M180.75 338.9V349.4M181.27 342.8V352.5M181.80 340.0V352.6M182.32 338.9V349.2M182.85 341.5V349.6M183.37 338.5V355.3M183.90 339.8V352.7M184.42 341.1V349.9M184.94 340.2V349.2M185.47 342.4V349.4M185.99 341.2V349.1M186.52 338.1V352.8M187.04 341.6V350.0M187.57 338.1V350.2M188.09 333.3V349.6M188.62 339.2V351.6M189.14 340.4V354.2M189.67 343.3V348.9M190.19 341.2V351.0M190.72 340.2V349.5M191.24 341.9V350.8M191.77 342.2V349.3M192.29 340.0V349.6M192.82 341.3V349.0M193.34 342.6V350.9M193.86 341.3V350.7M194.39 339.3V349.7M194.91 341.1V359.6M195.44 339.3V355.7M195.96 338.5V350.0M196.49 340.4V351.2M197.01 341.9V349.0M197.54 342.1V351.0M198.06 340.5V353.7M198.59 339.3V349.6M199.11 340.1V351.1M199.64 339.7V349.4M200.16 341.0V349.7M200.69 340.1V350.4M201.21 341.0V351.0M201.74 340.9V349.2M202.26 342.1V353.4M202.79 342.5V350.1M203.31 341.1V350.2M203.83 341.9V349.6M204.36 335.7V351.3M204.88 339.6V352.6M205.41 340.6V349.0M205.93 336.7V349.8M206.46 337.0V349.3M206.98 341.3V353.2M207.51 339.5V350.5M208.03 340.0V351.0M208.56 341.3V355.0M209.08 339.0V350.3M209.61 341.4V364.9M210.13 344.4V349.1M210.66 339.4V348.9M211.18 341.2V352.7M211.71 338.6V352.5M212.23 341.3V349.5M212.75 342.0V349.1M213.28 338.5V354.1M213.80 341.8V348.9M214.33 340.2V351.2M214.85 338.6V354.4M215.38 340.3V349.9M215.90 340.6V351.0M216.43 340.3V349.2M216.95 339.4V349.8M217.48 341.5V349.4M218.00 339.7V349.3M218.53 339.7V349.3M219.05 337.5V350.4M219.58 340.9V349.8M220.10 341.6V350.1M220.63 339.5V349.8M221.15 341.0V349.2M221.68 337.6V350.7M222.20 340.3V349.8M222.72 339.0V350.1M223.25 341.3V355.8M223.77 340.6V353.4M224.30 343.7V355.4M224.82 341.6V349.4M225.35 338.5V350.1M225.87 341.3V349.9M226.40 341.3V350.3M226.92 342.0V350.2M227.45 339.7V357.6M227.97 340.2V349.2M228.50 342.0V354.2M229.02 339.6V349.6M229.55 340.1V351.6M230.07 339.5V349.0M230.60 341.3V350.9M231.12 338.2V351.4M231.64 339.9V349.0M232.17 340.6V350.2M232.69 341.1V350.1M233.22 340.8V350.9M233.74 339.4V349.1M234.27 338.7V350.2M234.79 339.1V350.8M235.32 339.7V359.2M235.84 338.7V351.0M236.37 339.4V350.8M236.89 340.5V349.6M237.42 342.9V352.5M237.94 340.1V349.0M238.47 339.4V348.9M238.99 340.2V349.9M239.52 339.7V349.6M240.04 341.0V351.7M240.57 340.9V350.7M241.09 341.7V351.1M241.61 338.7V351.9M242.14 340.2V350.0M242.66 341.1V349.8M243.19 342.1V349.4M243.71 340.6V350.1M244.24 338.6V349.8M244.76 339.9V350.5M245.29 341.4V350.2M245.81 338.6V350.6M246.34 338.6V355.0M246.86 339.2V357.5M247.39 339.4V350.4M247.91 339.0V351.0M248.44 339.8V352.6M248.96 339.5V354.2M249.49 341.4V349.0M250.01 338.5V349.2M250.53 340.2V350.7M251.06 337.9V349.6M251.58 343.1V350.6M252.11 339.5V351.7M252.63 339.2V349.0M253.16 340.9V350.4M253.68 339.9V349.1M254.21 339.5V355.4M254.73 339.7V351.4M255.26 341.1V350.6M255.78 340.6V352.8M256.31 339.1V349.0M256.83 338.8V349.7M257.36 340.3V350.6M257.88 340.3V349.4M258.41 340.2V349.7M258.93 339.1V350.4M259.46 341.8V349.6M259.98 342.1V354.8M260.50 340.3V349.6M261.03 341.9V352.5M261.55 341.2V353.2M262.08 340.3V349.8M262.60 339.8V355.2M263.13 341.8V355.6M263.65 335.3V350.7M264.18 342.7V351.8M264.70 339.8V350.0M265.23 342.5V349.7M265.75 342.1V350.4M266.28 339.6V349.1M266.80 341.0V354.4M267.33 341.5V349.8M267.85 341.0V350.1M268.38 339.9V348.9M268.90 340.5V351.0" fill="none" stroke="#ff0000" stroke-width="1.0"/></svg><rect x="33.3" y="295.0" width="235.60" height="76.60" fill="none" stroke="#4a4a4a" stroke-width="1.1"/><line x1="33.30" y1="371.6" x2="33.30" y2="369.6" stroke="#333" stroke-width="0.8"/><line x1="33.30" y1="295.0" x2="33.30" y2="297.0" stroke="#333" stroke-width="0.8"/><text x="33.30" y="379.60" font-size="7.5" text-anchor="middle" fill="#222">0</text><line x1="60.23" y1="371.6" x2="60.23" y2="369.6" stroke="#333" stroke-width="0.8"/><line x1="60.23" y1="295.0" x2="60.23" y2="297.0" stroke="#333" stroke-width="0.8"/><text x="60.23" y="379.60" font-size="7.5" text-anchor="middle" fill="#222">2</text><line x1="87.15" y1="371.6" x2="87.15" y2="369.6" stroke="#333" stroke-width="0.8"/><line x1="87.15" y1="295.0" x2="87.15" y2="297.0" stroke="#333" stroke-width="0.8"/><text x="87.15" y="379.60" font-size="7.5" text-anchor="middle" fill="#222">4</text><line x1="114.08" y1="371.6" x2="114.08" y2="369.6" stroke="#333" stroke-width="0.8"/><line x1="114.08" y1="295.0" x2="114.08" y2="297.0" stroke="#333" stroke-width="0.8"/><text x="114.08" y="379.60" font-size="7.5" text-anchor="middle" fill="#222">6</text><line x1="141.00" y1="371.6" x2="141.00" y2="369.6" stroke="#333" stroke-width="0.8"/><line x1="141.00" y1="295.0" x2="141.00" y2="297.0" stroke="#333" stroke-width="0.8"/><text x="141.00" y="379.60" font-size="7.5" text-anchor="middle" fill="#222">8</text><line x1="167.93" y1="371.6" x2="167.93" y2="369.6" stroke="#333" stroke-width="0.8"/><line x1="167.93" y1="295.0" x2="167.93" y2="297.0" stroke="#333" stroke-width="0.8"/><text x="167.93" y="379.60" font-size="7.5" text-anchor="middle" fill="#222">10</text><line x1="194.85" y1="371.6" x2="194.85" y2="369.6" stroke="#333" stroke-width="0.8"/><line x1="194.85" y1="295.0" x2="194.85" y2="297.0" stroke="#333" stroke-width="0.8"/><text x="194.85" y="379.60" font-size="7.5" text-anchor="middle" fill="#222">12</text><line x1="221.78" y1="371.6" x2="221.78" y2="369.6" stroke="#333" stroke-width="0.8"/><line x1="221.78" y1="295.0" x2="221.78" y2="297.0" stroke="#333" stroke-width="0.8"/><text x="221.78" y="379.60" font-size="7.5" text-anchor="middle" fill="#222">14</text><line x1="248.71" y1="371.6" x2="248.71" y2="369.6" stroke="#333" stroke-width="0.8"/><line x1="248.71" y1="295.0" x2="248.71" y2="297.0" stroke="#333" stroke-width="0.8"/><text x="248.71" y="379.60" font-size="7.5" text-anchor="middle" fill="#222">16</text><line x1="33.3" y1="295.00" x2="35.3" y2="295.00" stroke="#333" stroke-width="0.8"/><line x1="268.9" y1="295.00" x2="266.9" y2="295.00" stroke="#333" stroke-width="0.8"/><text x="31.30" y="297.90" font-size="7.5" text-anchor="end" fill="#222">20</text><line x1="33.3" y1="320.53" x2="35.3" y2="320.53" stroke="#333" stroke-width="0.8"/><line x1="268.9" y1="320.53" x2="266.9" y2="320.53" stroke="#333" stroke-width="0.8"/><text x="31.30" y="323.43" font-size="7.5" text-anchor="end" fill="#222">0</text><line x1="33.3" y1="346.07" x2="35.3" y2="346.07" stroke="#333" stroke-width="0.8"/><line x1="268.9" y1="346.07" x2="266.9" y2="346.07" stroke="#333" stroke-width="0.8"/><text x="31.30" y="348.97" font-size="7.5" text-anchor="end" fill="#222">-20</text><line x1="33.3" y1="371.60" x2="35.3" y2="371.60" stroke="#333" stroke-width="0.8"/><line x1="268.9" y1="371.60" x2="266.9" y2="371.60" stroke="#333" stroke-width="0.8"/><text x="31.30" y="374.50" font-size="7.5" text-anchor="end" fill="#222">-40</text><text x="151.10" y="389.10" font-size="7.2" text-anchor="middle" fill="#222">frequency(GHz)</text><text transform="translate(15.70,333.30) rotate(-90)" font-size="7.2" text-anchor="middle" fill="#222">spectrum(a.u.)</text><rect x="307.3" y="188.4" width="234.40" height="75.90" fill="#fff"/><line x1="334.09" y1="188.4" x2="334.09" y2="264.3" stroke="#222" stroke-width="0.9" stroke-dasharray="1.2,2.1"/><line x1="360.88" y1="188.4" x2="360.88" y2="264.3" stroke="#222" stroke-width="0.9" stroke-dasharray="1.2,2.1"/><line x1="387.67" y1="188.4" x2="387.67" y2="264.3" stroke="#222" stroke-width="0.9" stroke-dasharray="1.2,2.1"/><line x1="414.45" y1="188.4" x2="414.45" y2="264.3" stroke="#222" stroke-width="0.9" stroke-dasharray="1.2,2.1"/><line x1="441.24" y1="188.4" x2="441.24" y2="264.3" stroke="#222" stroke-width="0.9" stroke-dasharray="1.2,2.1"/><line x1="468.03" y1="188.4" x2="468.03" y2="264.3" stroke="#222" stroke-width="0.9" stroke-dasharray="1.2,2.1"/><line x1="494.82" y1="188.4" x2="494.82" y2="264.3" stroke="#222" stroke-width="0.9" stroke-dasharray="1.2,2.1"/><line x1="521.61" y1="188.4" x2="521.61" y2="264.3" stroke="#222" stroke-width="0.9" stroke-dasharray="1.2,2.1"/><line x1="307.3" y1="213.70" x2="541.7" y2="213.70" stroke="#222" stroke-width="0.9" stroke-dasharray="1.2,2.1"/><line x1="307.3" y1="239.00" x2="541.7" y2="239.00" stroke="#222" stroke-width="0.9" stroke-dasharray="1.2,2.1"/><svg x="307.3" y="188.4" width="234.40" height="75.90" viewBox="307.3 188.4 234.40 75.90" overflow="hidden"><path d="M307.30 231.7V248.9M307.82 221.3V245.7M308.34 239.0V252.3M308.87 234.1V248.7M309.39 231.8V246.4M309.91 231.1V246.3M310.43 232.5V252.9M310.95 230.8V247.5M311.48 233.2V245.4M312.00 232.7V247.9M312.52 233.4V246.6M313.04 236.0V247.2M313.56 235.5V248.4M314.09 233.0V247.7M314.61 235.0V246.8M315.13 231.2V254.4M315.65 231.2V246.6M316.17 230.2V251.9M316.70 233.9V246.1M317.22 231.0V246.8M317.74 235.6V245.6M318.26 235.5V248.4M318.79 233.6V245.5M319.31 233.2V247.0M319.83 220.0V246.6M320.35 237.3V247.1M320.87 233.1V248.3M321.40 235.6V247.8M321.92 231.4V246.6M322.44 233.0V245.3M322.96 233.2V248.8M323.48 233.4V249.1M324.01 232.0V245.2M324.53 234.1V245.9M325.05 231.6V245.6M325.57 234.9V257.0M326.09 234.3V250.1M326.62 235.2V245.9M327.14 232.6V250.8M327.66 233.7V245.5M328.18 235.6V245.3M328.70 229.8V251.1M329.23 234.5V255.5M329.75 234.0V245.5M330.27 233.0V246.2M330.79 230.3V246.9M331.31 234.1V249.7M331.84 232.4V246.9M332.36 233.6V256.7M332.88 236.8V248.8M333.40 232.2V247.3M333.92 231.7V245.7M334.45 234.3V245.5M334.97 233.8V246.6M335.49 236.8V247.1M336.01 236.9V245.0M336.53 233.4V246.1M337.06 232.5V245.0M337.58 234.8V247.4M338.10 233.2V247.8M338.62 231.9V246.7M339.14 233.6V246.4M339.67 229.7V246.6M340.19 230.9V246.2M340.71 236.3V246.0M341.23 232.3V245.4M341.76 237.6V249.8M342.28 232.9V247.5M342.80 233.4V248.6M343.32 234.9V246.0M343.84 236.0V250.4M344.37 233.9V247.8M344.89 234.6V246.3M345.41 233.6V249.2M345.93 235.6V245.4M346.45 232.7V249.4M346.98 235.9V246.9M347.50 234.4V247.2M348.02 234.6V247.8M348.54 231.2V245.3M349.06 236.8V247.3M349.59 234.6V253.9M350.11 231.4V247.0M350.63 235.1V248.0M351.15 236.3V245.2M351.67 233.2V252.7M352.20 234.4V251.2M352.72 232.1V251.3M353.24 235.7V248.6M353.76 233.4V251.4M354.28 232.5V245.8M354.81 231.7V245.8M355.33 236.0V246.1M355.85 230.9V245.3M356.37 235.6V245.2M356.89 236.9V246.9M357.42 235.7V245.5M357.94 233.5V245.2M358.46 234.5V245.4M358.98 232.9V246.9M359.50 232.8V246.6M360.03 227.3V248.0M360.55 234.3V248.5M361.07 230.1V245.8M361.59 238.3V247.7M362.12 237.3V245.9M362.64 234.8V245.6M363.16 236.4V246.1M363.68 239.0V245.5M364.20 235.4V246.1M364.73 235.3V249.4M365.25 238.8V245.6M365.77 232.1V246.5M366.29 231.2V247.4M366.81 231.3V249.1M367.34 234.8V252.4M367.86 233.5V252.8M368.38 236.1V247.6M368.90 233.4V246.2M369.42 235.2V245.8M369.95 233.0V247.7M370.47 234.5V246.1M370.99 231.7V245.4M371.51 232.1V259.7M372.03 231.3V247.7M372.56 237.1V246.5M373.08 237.5V259.2M373.60 233.0V246.7M374.12 235.0V253.3M374.64 233.0V247.0M375.17 233.2V245.8M375.69 233.4V247.6M376.21 231.9V246.2M376.73 232.7V247.9M377.25 232.9V245.1M377.78 228.8V247.8M378.30 230.3V246.2M378.82 233.6V246.8M379.34 231.6V246.5M379.86 233.1V247.3M380.39 231.2V246.4M380.91 233.5V246.5M381.43 233.4V248.2M381.95 233.5V245.8M382.48 235.2V258.4M383.00 235.0V245.8M383.52 234.1V246.5M384.04 234.0V245.8M384.56 235.8V246.3M385.09 229.0V247.3M385.61 235.8V246.4M386.13 234.4V248.9M386.65 228.9V256.5M387.17 235.1V247.8M387.70 232.3V255.9M388.22 232.5V249.1M388.74 233.1V245.3M389.26 236.7V247.2M389.78 237.0V251.7M390.31 233.8V245.0M390.83 233.0V245.8M391.35 238.2V248.6M391.87 233.5V246.5M392.39 235.1V245.6M392.92 232.0V245.3M393.44 233.5V246.0M393.96 235.4V246.2M394.48 234.7V245.8M395.00 233.7V245.7M395.53 229.3V249.7M396.05 227.6V248.1M396.57 233.1V247.6M397.09 233.5V245.3M397.61 232.4V245.1M398.14 233.7V247.7M398.66 232.4V250.6M399.18 232.9V245.3M399.70 233.6V248.7M400.22 235.2V245.1M400.75 233.3V246.6M401.27 231.8V247.9M401.79 233.5V245.1M402.31 230.6V246.9M402.83 231.7V247.9M403.36 233.9V258.1M403.88 230.1V246.0M404.40 235.9V245.1M404.92 231.2V245.1M405.45 229.8V253.0M405.97 234.1V246.7M406.49 233.8V246.1M407.01 231.7V245.9M407.53 230.7V245.6M408.06 232.7V249.3M408.58 233.1V245.3M409.10 231.7V245.5M409.62 233.0V246.8M410.14 236.0V247.2M410.67 233.9V245.7M411.19 233.6V246.7M411.71 236.6V248.2M412.23 232.8V248.3M412.75 235.1V248.0M413.28 232.1V248.9M413.80 236.6V245.4M414.32 235.4V247.3M414.84 236.5V249.0M415.36 231.0V246.1M415.89 231.0V246.9M416.41 230.6V248.4M416.93 230.6V246.4M417.45 229.7V246.0M417.97 231.8V245.5M418.50 237.0V247.4M419.02 232.9V245.6M419.54 234.6V251.5M420.06 234.2V246.1M420.58 236.1V248.8M421.11 230.9V245.8M421.63 233.2V245.7M422.15 236.6V247.0M422.67 232.5V247.3M423.19 233.7V245.4M423.72 235.7V245.9M424.24 234.2V249.1M424.76 235.2V248.8M425.28 238.3V250.1M425.81 236.8V245.8M426.33 232.7V247.0M426.85 233.1V247.3M427.37 233.2V245.7M427.89 236.2V246.1M428.42 235.0V245.3M428.94 233.7V246.0M429.46 232.4V245.0M429.98 235.5V247.7M430.50 236.0V246.7M431.03 231.5V245.9M431.55 233.7V247.8M432.07 234.6V248.2M432.59 235.3V247.2M433.11 235.1V251.9M433.64 230.6V248.6M434.16 231.8V246.4M434.68 234.6V246.8M435.20 236.3V248.4M435.72 230.4V251.9M436.25 230.6V247.4M436.77 231.4V252.9M437.29 232.1V250.1M437.81 237.6V245.5M438.33 236.4V246.0M438.86 232.7V251.1M439.38 234.4V250.9M439.90 233.3V250.4M440.42 234.9V249.4M440.94 235.1V248.3M441.47 232.7V248.8M441.99 234.6V246.2M442.51 233.8V248.5M443.03 233.3V253.0M443.55 233.3V250.2M444.08 231.5V250.6M444.60 231.0V246.0M445.12 236.6V245.8M445.64 234.3V246.7M446.17 235.1V247.9M446.69 232.3V249.9M447.21 236.0V246.0M447.73 232.2V246.5M448.25 232.4V245.8M448.78 232.6V248.3M449.30 235.8V252.4M449.82 234.2V246.2M450.34 236.0V246.9M450.86 233.0V247.7M451.39 231.9V249.5M451.91 236.9V245.4M452.43 235.5V246.7M452.95 234.1V247.8M453.47 234.9V249.8M454.00 230.8V245.2M454.52 234.1V245.5M455.04 233.3V248.3M455.56 236.1V247.8M456.08 225.5V246.4M456.61 233.5V247.8M457.13 232.2V247.6M457.65 233.6V245.6M458.17 238.1V255.8M458.69 237.0V249.1M459.22 236.4V247.0M459.74 232.8V247.7M460.26 234.8V250.1M460.78 232.9V253.4M461.30 233.2V248.7M461.83 233.3V246.6M462.35 231.9V246.9M462.87 233.4V246.9M463.39 237.1V249.5M463.91 235.2V246.2M464.44 230.4V246.8M464.96 236.0V245.0M465.48 231.0V245.7M466.00 230.4V247.3M466.52 235.0V249.3M467.05 233.1V247.1M467.57 236.6V247.5M468.09 232.2V247.7M468.61 235.4V248.2M469.14 236.4V255.2M469.66 227.1V247.5M470.18 234.7V246.6M470.70 235.0V248.3M471.22 233.4V250.2M471.75 234.1V249.4M472.27 235.1V245.4M472.79 231.9V250.7M473.31 228.9V249.5M473.83 233.7V247.1M474.36 235.2V252.7M474.88 235.8V247.3M475.40 232.6V247.0M475.92 234.3V250.2M476.44 233.8V248.0M476.97 237.8V245.5M477.49 236.1V248.0M478.01 236.1V251.6M478.53 231.9V253.3M479.05 234.3V248.8M479.58 238.8V246.4M480.10 232.8V254.9M480.62 231.5V248.1M481.14 231.1V249.6M481.66 239.4V245.4M482.19 233.4V250.0M482.71 231.9V246.9M483.23 232.3V248.4M483.75 233.9V246.6M484.27 237.0V245.1M484.80 234.2V247.8M485.32 233.9V248.7M485.84 232.0V244.5M486.36 231.8V246.3M486.88 233.5V244.4M487.41 231.2V254.8M487.93 235.0V245.8M488.45 234.1V248.2M488.97 226.6V245.6M489.50 231.4V245.5M490.02 233.2V259.6M490.54 230.0V244.7M491.06 231.6V247.1M491.58 234.2V246.9M492.11 232.1V244.9M492.63 234.0V245.6M493.15 234.0V248.4M493.67 234.9V245.2M494.19 229.1V247.9M494.72 230.0V245.6M495.24 235.0V255.8M495.76 229.4V245.7M496.28 229.7V245.5M496.80 232.3V247.9M497.33 230.4V248.9M497.85 226.8V245.7M498.37 230.7V255.4M498.89 230.4V246.9M499.41 228.9V251.1M499.94 233.2V247.8M500.46 233.6V245.8M500.98 233.8V243.6M501.50 231.0V244.7M502.02 229.0V249.1M502.55 232.4V242.8M503.07 233.4V244.4M503.59 230.1V246.1M504.11 231.1V244.0M504.63 229.1V241.5M505.16 230.4V250.3M505.68 230.5V243.4M506.20 230.3V245.0M506.72 230.0V246.3M507.24 232.0V246.2M507.77 232.3V241.4M508.29 226.8V249.2M508.81 223.7V244.6M509.33 227.7V246.5M509.86 233.2V242.7M510.38 229.8V245.4M510.90 227.4V241.2M511.42 233.0V244.6M511.94 230.6V243.7M512.47 230.3V243.4M512.99 231.1V240.8M513.51 230.7V240.3M514.03 226.5V241.6M514.55 228.9V242.2M515.08 227.5V248.1M515.60 222.3V244.1M516.12 226.5V238.9M516.64 229.0V236.5M517.16 225.0V240.2M517.69 223.3V240.4M518.21 227.6V240.2M518.73 227.8V245.0M519.25 231.3V241.6M519.77 230.7V248.1M520.30 225.0V244.1M520.82 226.2V241.6M521.34 227.5V242.2M521.86 229.9V243.4M522.38 230.9V242.5M522.91 230.4V245.1M523.43 230.4V241.9M523.95 226.5V241.4M524.47 228.8V240.0M524.99 227.9V244.5M525.52 224.9V238.6M526.04 224.2V238.1M526.56 224.7V236.2M527.08 222.9V238.1M527.60 222.4V233.9M528.13 224.4V233.9M528.65 221.2V237.7M529.17 223.8V246.6M529.69 224.9V235.8M530.21 224.7V243.9M530.74 227.1V239.1M531.26 224.1V240.8M531.78 227.5V240.6M532.30 227.3V241.0M532.83 229.9V242.7M533.35 231.2V242.5M533.87 229.8V244.5M534.39 229.8V246.1M534.91 230.3V243.6M535.44 233.2V247.6M535.96 233.7V244.7M536.48 233.2V243.5M537.00 232.1V245.1M537.52 236.0V248.7M538.05 234.0V245.0M538.57 234.7V244.3M539.09 233.8V247.5M539.61 230.8V244.7M540.13 230.8V244.9M540.66 231.6V248.2M541.18 230.6V245.8M541.70 234.6V244.1" fill="none" stroke="#0000ff" stroke-width="0.65"/><path d="M307.30 234.4V242.8M307.82 235.1V243.1M308.34 233.7V242.1M308.87 232.9V243.2M309.39 232.0V242.2M309.91 233.3V242.4M310.43 234.1V242.6M310.95 234.4V241.9M311.48 232.5V244.1M312.00 231.4V245.7M312.52 233.1V242.5M313.04 235.0V244.0M313.56 234.6V242.3M314.09 231.4V244.0M314.61 233.2V242.1M315.13 235.6V241.9M315.65 233.5V242.2M316.17 234.9V244.0M316.70 234.2V242.7M317.22 234.0V242.4M317.74 234.3V242.1M318.26 232.7V245.7M318.79 233.5V242.9M319.31 234.2V243.7M319.83 232.9V243.7M320.35 232.4V242.4M320.87 235.5V242.6M321.40 233.8V242.5M321.92 234.7V242.2M322.44 233.7V242.9M322.96 235.1V245.2M323.48 233.4V245.6M324.01 233.5V247.5M324.53 223.8V242.4M325.05 234.8V242.2M325.57 233.9V242.6M326.09 234.8V242.4M326.62 235.1V242.2M327.14 233.1V244.0M327.66 234.8V243.6M328.18 232.0V248.0M328.70 232.5V247.6M329.23 236.0V243.0M329.75 230.1V244.3M330.27 234.8V242.7M330.79 233.4V242.8M331.31 233.4V242.9M331.84 235.9V242.7M332.36 233.7V249.4M332.88 233.8V243.1M333.40 221.5V254.5M333.92 234.9V241.9M334.45 232.5V242.1M334.97 234.8V259.4M335.49 233.9V241.9M336.01 234.5V242.1M336.53 231.6V242.0M337.06 231.5V244.6M337.58 230.4V242.4M338.10 232.6V243.1M338.62 232.4V242.3M339.14 232.4V242.1M339.67 234.2V243.0M340.19 233.5V242.0M340.71 231.7V243.7M341.23 227.1V243.6M341.76 233.2V243.9M342.28 233.5V245.0M342.80 232.7V244.3M343.32 233.9V242.1M343.84 233.6V241.9M344.37 233.1V242.8M344.89 233.3V243.0M345.41 234.5V248.0M345.93 232.3V242.0M346.45 235.1V242.1M346.98 235.0V244.3M347.50 235.1V243.1M348.02 232.2V248.8M348.54 233.9V241.8M349.06 234.7V242.1M349.59 234.9V243.2M350.11 225.1V243.5M350.63 234.8V243.1M351.15 235.0V243.9M351.67 232.7V247.3M352.20 234.9V242.5M352.72 233.8V243.2M353.24 233.4V256.1M353.76 234.0V242.8M354.28 233.5V244.6M354.81 231.7V248.0M355.33 234.1V242.7M355.85 235.0V242.3M356.37 235.8V242.2M356.89 233.7V242.3M357.42 233.9V244.0M357.94 233.1V242.2M358.46 234.0V243.1M358.98 234.0V243.9M359.50 234.3V241.8M360.03 234.1V242.0M360.55 233.2V243.2M361.07 233.9V243.3M361.59 233.3V243.9M362.12 231.0V248.5M362.64 232.8V242.1M363.16 235.4V241.9M363.68 231.2V248.4M364.20 233.0V244.9M364.73 234.6V242.2M365.25 232.3V242.5M365.77 233.4V243.6M366.29 234.2V242.8M366.81 234.2V245.9M367.34 234.7V243.4M367.86 233.4V242.4M368.38 232.1V241.8M368.90 233.8V242.1M369.42 232.9V242.6M369.95 231.1V241.9M370.47 235.0V242.2M370.99 233.1V242.1M371.51 233.8V241.8M372.03 234.8V241.9M372.56 234.7V243.7M373.08 233.4V243.6M373.60 232.9V242.1M374.12 234.1V242.6M374.64 233.4V243.2M375.17 232.5V244.8M375.69 233.1V245.9M376.21 232.3V243.0M376.73 232.8V242.8M377.25 232.8V242.4M377.78 231.1V243.2M378.30 232.6V244.2M378.82 233.3V246.0M379.34 232.5V246.1M379.86 234.6V243.0M380.39 233.9V242.9M380.91 232.4V242.9M381.43 232.6V243.1M381.95 231.5V243.3M382.48 233.4V242.1M383.00 235.3V245.6M383.52 231.0V248.9M384.04 232.0V248.9M384.56 234.8V243.3M385.09 231.7V248.5M385.61 233.4V244.3M386.13 235.7V242.7M386.65 234.0V242.0M387.17 234.1V242.4M387.70 231.4V242.6M388.22 231.9V243.2M388.74 233.8V242.5M389.26 233.8V241.9M389.78 233.9V242.8M390.31 234.6V242.9M390.83 233.2V247.6M391.35 232.1V243.7M391.87 232.6V242.8M392.39 234.6V242.0M392.92 234.9V243.9M393.44 233.3V245.9M393.96 234.3V243.3M394.48 234.2V250.5M395.00 235.6V247.2M395.53 231.0V247.0M396.05 232.0V243.5M396.57 234.7V243.1M397.09 232.3V242.0M397.61 231.7V241.9M398.14 236.5V243.6M398.66 234.1V246.8M399.18 233.9V243.0M399.70 232.6V251.2M400.22 233.6V246.5M400.75 233.7V242.4M401.27 233.5V242.8M401.79 231.1V243.6M402.31 230.7V244.4M402.83 234.1V254.6M403.36 234.6V243.4M403.88 230.0V243.8M404.40 234.7V244.5M404.92 234.2V251.5M405.45 233.4V242.6M405.97 232.8V245.8M406.49 232.1V241.9M407.01 232.9V244.4M407.53 234.5V242.6M408.06 232.8V244.3M408.58 233.1V242.6M409.10 231.1V242.7M409.62 233.4V243.3M410.14 235.1V242.6M410.67 234.7V242.2M411.19 231.6V243.8M411.71 234.1V242.3M412.23 236.1V243.3M412.75 234.2V241.8M413.28 233.4V253.8M413.80 231.9V242.5M414.32 234.7V241.9M414.84 232.6V241.9M415.36 232.4V242.7M415.89 234.3V242.9M416.41 233.7V244.0M416.93 231.2V242.0M417.45 231.3V243.9M417.97 232.3V242.7M418.50 233.0V242.7M419.02 232.0V242.6M419.54 233.6V244.4M420.06 233.5V250.6M420.58 234.5V244.0M421.11 233.4V241.9M421.63 233.5V242.9M422.15 229.9V242.5M422.67 233.7V241.9M423.19 231.8V241.9M423.72 231.8V242.9M424.24 233.7V242.7M424.76 231.9V243.0M425.28 236.2V243.7M425.81 233.3V242.5M426.33 232.3V242.5M426.85 236.5V243.3M427.37 234.9V243.6M427.89 232.1V246.9M428.42 233.8V245.4M428.94 234.8V242.0M429.46 233.9V248.5M429.98 234.1V242.9M430.50 232.5V244.3M431.03 232.9V243.3M431.55 233.8V244.0M432.07 234.3V244.3M432.59 233.5V242.7M433.11 231.7V244.0M433.64 233.0V248.9M434.16 232.6V248.1M434.68 233.6V242.8M435.20 231.4V242.0M435.72 234.3V242.5M436.25 232.6V241.9M436.77 233.3V242.5M437.29 224.7V249.8M437.81 234.8V243.4M438.33 233.3V242.9M438.86 231.9V244.0M439.38 233.9V242.4M439.90 233.8V242.3M440.42 233.1V242.3M440.94 233.1V243.3M441.47 232.2V248.6M441.99 232.2V242.9M442.51 231.7V243.1M443.03 232.4V242.0M443.55 233.8V242.3M444.08 233.5V241.8M444.60 232.8V243.2M445.12 233.8V242.4M445.64 232.7V243.3M446.17 232.0V248.2M446.69 234.4V241.9M447.21 235.7V243.4M447.73 231.9V248.8M448.25 233.4V242.4M448.78 232.5V242.1M449.30 235.1V244.0M449.82 231.0V242.8M450.34 232.5V243.0M450.86 233.6V243.0M451.39 233.9V243.5M451.91 233.3V242.0M452.43 233.6V250.2M452.95 233.8V243.8M453.47 219.4V243.0M454.00 231.8V242.2M454.52 233.5V251.3M455.04 233.3V242.3M455.56 233.3V243.1M456.08 236.4V248.4M456.61 232.8V243.2M457.13 233.8V244.0M457.65 233.8V243.2M458.17 233.3V250.6M458.69 234.6V242.2M459.22 227.7V256.1M459.74 234.3V242.0M460.26 234.6V241.9M460.78 234.5V242.2M461.30 233.2V241.9M461.83 232.5V241.9M462.35 234.2V243.1M462.87 235.3V246.1M463.39 232.1V242.7M463.91 234.8V244.6M464.44 231.9V242.5M464.96 233.5V243.5M465.48 234.3V251.8M466.00 234.2V242.5M466.52 232.8V251.2M467.05 232.3V242.6M467.57 233.7V246.3M468.09 232.2V242.9M468.61 230.8V242.5M469.14 233.7V242.8M469.66 234.9V244.3M470.18 234.7V242.1M470.70 235.2V242.9M471.22 234.2V243.1M471.75 234.3V241.8M472.27 235.1V243.1M472.79 232.7V246.0M473.31 236.7V242.9M473.83 235.1V242.0M474.36 230.9V243.4M474.88 232.1V244.8M475.40 232.7V241.9M475.92 232.8V247.4M476.44 231.2V247.1M476.97 232.7V249.8M477.49 233.3V245.2M478.01 235.0V243.0M478.53 233.5V243.5M479.05 234.3V246.1M479.58 234.3V243.2M480.10 234.3V242.7M480.62 233.5V242.8M481.14 233.8V242.0M481.66 232.3V241.8M482.19 235.0V243.8M482.71 233.4V242.0M483.23 230.8V241.9M483.75 233.0V243.1M484.27 231.5V248.4M484.80 231.5V245.1M485.32 231.2V243.0M485.84 231.8V241.6M486.36 234.4V241.9M486.88 232.9V241.9M487.41 233.0V242.1M487.93 234.4V241.3M488.45 233.0V240.8M488.97 233.9V248.5M489.50 234.3V240.9M490.02 231.9V240.9M490.54 232.1V241.8M491.06 216.2V243.3M491.58 233.1V244.2M492.11 232.5V241.5M492.63 232.3V244.2M493.15 232.2V241.4M493.67 231.7V244.0M494.19 232.1V240.8M494.72 231.0V241.5M495.24 230.7V240.7M495.76 230.9V247.1M496.28 232.1V239.9M496.80 231.9V240.6M497.33 230.5V240.8M497.85 231.3V240.6M498.37 231.0V242.4M498.89 234.0V242.6M499.41 234.2V242.5M499.94 230.3V239.4M500.46 230.2V242.1M500.98 228.8V239.2M501.50 229.5V239.4M502.02 230.1V240.2M502.55 230.3V240.2M503.07 232.0V239.1M503.59 229.0V240.5M504.11 230.8V239.6M504.63 229.3V239.6M505.16 229.6V238.6M505.68 229.5V238.4M506.20 228.7V239.6M506.72 230.4V240.6M507.24 230.2V239.2M507.77 230.8V238.5M508.29 230.2V243.8M508.81 227.6V240.4M509.33 218.1V238.8M509.86 228.1V240.4M510.38 228.5V243.5M510.90 228.6V238.3M511.42 228.4V239.4M511.94 230.6V237.8M512.47 228.7V237.9M512.99 227.0V239.8M513.51 229.6V237.6M514.03 228.4V239.1M514.55 228.6V236.7M515.08 226.4V235.6M515.60 226.9V234.2M516.12 222.5V233.4M516.64 200.3V233.9M517.16 228.0V235.2M517.69 224.8V237.9M518.21 226.5V237.5M518.73 227.5V237.5M519.25 227.7V239.7M519.77 229.0V239.6M520.30 228.8V238.5M520.82 227.6V242.7M521.34 227.3V242.8M521.86 227.2V243.1M522.38 227.9V237.1M522.91 228.6V237.6M523.43 228.0V239.0M523.95 223.7V247.8M524.47 225.2V240.4M524.99 227.0V247.9M525.52 226.6V235.1M526.04 223.7V234.4M526.56 223.6V233.2M527.08 222.6V238.1M527.60 223.7V230.6M528.13 220.6V228.5M528.65 197.5V229.3M529.17 222.4V231.5M529.69 226.0V233.4M530.21 223.2V241.0M530.74 225.2V235.2M531.26 225.7V235.1M531.78 228.3V237.3M532.30 227.3V241.8M532.83 228.5V240.0M533.35 232.5V239.0M533.87 230.4V239.6M534.39 230.1V239.8M534.91 232.1V240.9M535.44 230.3V240.1M535.96 231.9V240.8M536.48 230.0V240.2M537.00 231.0V240.8M537.52 231.5V242.5M538.05 229.3V242.2M538.57 230.9V242.3M539.09 230.3V241.8M539.61 233.5V244.8M540.13 232.9V240.9M540.66 231.0V242.6M541.18 214.5V251.7M541.70 232.2V241.8" fill="none" stroke="#ff0000" stroke-width="1.0"/></svg><rect x="307.3" y="188.4" width="234.40" height="75.90" fill="none" stroke="#4a4a4a" stroke-width="1.1"/><line x1="307.30" y1="264.3" x2="307.30" y2="262.3" stroke="#333" stroke-width="0.8"/><line x1="307.30" y1="188.4" x2="307.30" y2="190.4" stroke="#333" stroke-width="0.8"/><text x="307.30" y="272.30" font-size="7.5" text-anchor="middle" fill="#222">0</text><line x1="334.09" y1="264.3" x2="334.09" y2="262.3" stroke="#333" stroke-width="0.8"/><line x1="334.09" y1="188.4" x2="334.09" y2="190.4" stroke="#333" stroke-width="0.8"/><text x="334.09" y="272.30" font-size="7.5" text-anchor="middle" fill="#222">2</text><line x1="360.88" y1="264.3" x2="360.88" y2="262.3" stroke="#333" stroke-width="0.8"/><line x1="360.88" y1="188.4" x2="360.88" y2="190.4" stroke="#333" stroke-width="0.8"/><text x="360.88" y="272.30" font-size="7.5" text-anchor="middle" fill="#222">4</text><line x1="387.67" y1="264.3" x2="387.67" y2="262.3" stroke="#333" stroke-width="0.8"/><line x1="387.67" y1="188.4" x2="387.67" y2="190.4" stroke="#333" stroke-width="0.8"/><text x="387.67" y="272.30" font-size="7.5" text-anchor="middle" fill="#222">6</text><line x1="414.45" y1="264.3" x2="414.45" y2="262.3" stroke="#333" stroke-width="0.8"/><line x1="414.45" y1="188.4" x2="414.45" y2="190.4" stroke="#333" stroke-width="0.8"/><text x="414.45" y="272.30" font-size="7.5" text-anchor="middle" fill="#222">8</text><line x1="441.24" y1="264.3" x2="441.24" y2="262.3" stroke="#333" stroke-width="0.8"/><line x1="441.24" y1="188.4" x2="441.24" y2="190.4" stroke="#333" stroke-width="0.8"/><text x="441.24" y="272.30" font-size="7.5" text-anchor="middle" fill="#222">10</text><line x1="468.03" y1="264.3" x2="468.03" y2="262.3" stroke="#333" stroke-width="0.8"/><line x1="468.03" y1="188.4" x2="468.03" y2="190.4" stroke="#333" stroke-width="0.8"/><text x="468.03" y="272.30" font-size="7.5" text-anchor="middle" fill="#222">12</text><line x1="494.82" y1="264.3" x2="494.82" y2="262.3" stroke="#333" stroke-width="0.8"/><line x1="494.82" y1="188.4" x2="494.82" y2="190.4" stroke="#333" stroke-width="0.8"/><text x="494.82" y="272.30" font-size="7.5" text-anchor="middle" fill="#222">14</text><line x1="521.61" y1="264.3" x2="521.61" y2="262.3" stroke="#333" stroke-width="0.8"/><line x1="521.61" y1="188.4" x2="521.61" y2="190.4" stroke="#333" stroke-width="0.8"/><text x="521.61" y="272.30" font-size="7.5" text-anchor="middle" fill="#222">16</text><line x1="307.3" y1="188.40" x2="309.3" y2="188.40" stroke="#333" stroke-width="0.8"/><line x1="541.7" y1="188.40" x2="539.7" y2="188.40" stroke="#333" stroke-width="0.8"/><text x="305.30" y="191.30" font-size="7.5" text-anchor="end" fill="#222">20</text><line x1="307.3" y1="213.70" x2="309.3" y2="213.70" stroke="#333" stroke-width="0.8"/><line x1="541.7" y1="213.70" x2="539.7" y2="213.70" stroke="#333" stroke-width="0.8"/><text x="305.30" y="216.60" font-size="7.5" text-anchor="end" fill="#222">0</text><line x1="307.3" y1="239.00" x2="309.3" y2="239.00" stroke="#333" stroke-width="0.8"/><line x1="541.7" y1="239.00" x2="539.7" y2="239.00" stroke="#333" stroke-width="0.8"/><text x="305.30" y="241.90" font-size="7.5" text-anchor="end" fill="#222">-20</text><line x1="307.3" y1="264.30" x2="309.3" y2="264.30" stroke="#333" stroke-width="0.8"/><line x1="541.7" y1="264.30" x2="539.7" y2="264.30" stroke="#333" stroke-width="0.8"/><text x="305.30" y="267.20" font-size="7.5" text-anchor="end" fill="#222">-40</text><text x="424.50" y="281.80" font-size="7.2" text-anchor="middle" fill="#222">frequency(GHz)</text><text transform="translate(289.70,226.35) rotate(-90)" font-size="7.2" text-anchor="middle" fill="#222">spectrum(a.u.)</text><text x="337.14" y="201.00" font-size="10.5" fill="#2a2a2a" stroke="#2a2a2a" stroke-width="0.2">(c)</text><rect x="307.4" y="294.8" width="234.30" height="76.50" fill="#fff"/><line x1="334.18" y1="294.8" x2="334.18" y2="371.3" stroke="#222" stroke-width="0.9" stroke-dasharray="1.2,2.1"/><line x1="360.95" y1="294.8" x2="360.95" y2="371.3" stroke="#222" stroke-width="0.9" stroke-dasharray="1.2,2.1"/><line x1="387.73" y1="294.8" x2="387.73" y2="371.3" stroke="#222" stroke-width="0.9" stroke-dasharray="1.2,2.1"/><line x1="414.51" y1="294.8" x2="414.51" y2="371.3" stroke="#222" stroke-width="0.9" stroke-dasharray="1.2,2.1"/><line x1="441.29" y1="294.8" x2="441.29" y2="371.3" stroke="#222" stroke-width="0.9" stroke-dasharray="1.2,2.1"/><line x1="468.06" y1="294.8" x2="468.06" y2="371.3" stroke="#222" stroke-width="0.9" stroke-dasharray="1.2,2.1"/><line x1="494.84" y1="294.8" x2="494.84" y2="371.3" stroke="#222" stroke-width="0.9" stroke-dasharray="1.2,2.1"/><line x1="521.62" y1="294.8" x2="521.62" y2="371.3" stroke="#222" stroke-width="0.9" stroke-dasharray="1.2,2.1"/><line x1="307.4" y1="320.30" x2="541.7" y2="320.30" stroke="#222" stroke-width="0.9" stroke-dasharray="1.2,2.1"/><line x1="307.4" y1="345.80" x2="541.7" y2="345.80" stroke="#222" stroke-width="0.9" stroke-dasharray="1.2,2.1"/><svg x="307.4" y="294.8" width="234.30" height="76.50" viewBox="307.4 294.8 234.30 76.50" overflow="hidden"><path d="M307.40 343.2V352.1M307.92 326.7V355.9M308.44 342.5V354.8M308.97 340.4V365.1M309.49 344.4V361.2M310.01 340.1V352.0M310.53 341.6V352.7M311.05 337.9V353.5M311.57 337.7V352.8M312.10 336.8V361.3M312.62 338.1V353.6M313.14 339.8V356.3M313.66 337.9V352.4M314.18 336.6V351.8M314.71 341.0V360.7M315.23 338.4V353.4M315.75 339.8V353.2M316.27 336.7V351.2M316.79 341.4V354.5M317.31 340.3V357.4M317.84 338.9V359.6M318.36 339.2V352.2M318.88 343.0V351.8M319.40 338.9V366.0M319.92 326.3V354.7M320.45 340.2V353.4M320.97 340.0V351.4M321.49 339.2V354.0M322.01 343.4V351.7M322.53 336.5V352.5M323.05 341.4V351.9M323.58 344.3V353.5M324.10 339.8V351.3M324.62 336.7V352.7M325.14 340.7V352.5M325.66 336.5V352.0M326.19 336.5V355.0M326.71 341.4V353.1M327.23 344.7V353.9M327.75 342.2V355.7M328.27 337.3V354.8M328.79 341.3V352.1M329.32 342.8V354.4M329.84 342.4V355.1M330.36 339.7V355.9M330.88 339.7V352.2M331.40 337.9V352.2M331.93 337.7V352.4M332.45 336.6V353.1M332.97 340.0V354.6M333.49 342.0V360.9M334.01 339.5V354.6M334.53 342.0V352.5M335.06 342.1V353.1M335.58 335.3V352.6M336.10 339.6V354.4M336.62 338.4V355.4M337.14 334.5V353.2M337.67 338.1V351.1M338.19 339.9V351.5M338.71 339.6V353.1M339.23 341.2V352.4M339.75 337.4V352.8M340.28 340.4V362.0M340.80 336.1V353.0M341.32 340.4V353.3M341.84 340.4V366.1M342.36 340.5V351.2M342.88 338.4V353.5M343.41 339.3V356.0M343.93 336.9V353.2M344.45 340.8V353.0M344.97 339.1V353.0M345.49 335.7V352.3M346.02 340.2V351.9M346.54 338.6V353.1M347.06 336.5V360.1M347.58 338.5V351.7M348.10 341.0V358.8M348.62 331.5V351.0M349.15 334.8V351.5M349.67 338.8V351.4M350.19 337.1V351.3M350.71 340.6V354.3M351.23 336.0V354.6M351.76 338.6V358.9M352.28 339.6V353.0M352.80 340.0V355.7M353.32 338.9V354.5M353.84 340.7V351.7M354.36 340.1V354.2M354.89 343.0V353.2M355.41 340.7V353.9M355.93 339.4V351.9M356.45 342.2V352.2M356.97 339.5V359.0M357.50 338.3V355.6M358.02 340.3V358.3M358.54 340.9V361.4M359.06 340.9V364.7M359.58 337.8V351.5M360.10 342.8V357.2M360.63 340.3V351.8M361.15 340.5V353.0M361.67 339.4V352.3M362.19 339.8V352.7M362.71 341.9V351.8M363.24 335.5V352.1M363.76 339.3V359.4M364.28 342.4V356.7M364.80 341.5V352.4M365.32 339.5V359.8M365.84 338.4V351.2M366.37 342.4V355.7M366.89 338.2V356.0M367.41 342.5V351.3M367.93 341.3V354.9M368.45 337.9V355.1M368.98 336.2V351.8M369.50 339.9V351.1M370.02 340.3V354.7M370.54 337.1V352.3M371.06 341.9V352.7M371.58 339.1V355.5M372.11 339.2V355.5M372.63 337.6V353.0M373.15 339.1V352.7M373.67 340.2V354.0M374.19 338.4V365.9M374.72 342.0V352.6M375.24 338.0V360.6M375.76 341.0V352.6M376.28 341.5V356.2M376.80 340.4V354.5M377.32 339.5V355.3M377.85 338.2V351.3M378.37 340.1V351.4M378.89 338.2V365.2M379.41 337.7V351.3M379.93 339.4V351.3M380.46 341.7V364.2M380.98 337.8V359.7M381.50 339.1V358.0M382.02 344.0V352.2M382.54 341.7V353.3M383.06 339.4V366.5M383.59 342.5V355.3M384.11 341.1V352.5M384.63 343.2V358.1M385.15 338.9V354.7M385.67 339.2V352.2M386.20 339.3V351.1M386.72 336.7V356.1M387.24 340.4V353.7M387.76 340.3V352.5M388.28 335.6V358.0M388.80 342.3V353.5M389.33 338.2V352.8M389.85 342.4V353.9M390.37 339.2V355.4M390.89 335.4V353.1M391.41 339.1V351.9M391.94 341.3V353.2M392.46 334.8V353.9M392.98 340.8V352.1M393.50 340.1V355.7M394.02 339.1V355.7M394.54 342.4V351.3M395.07 337.4V351.9M395.59 336.4V351.0M396.11 338.1V352.8M396.63 339.0V356.5M397.15 340.0V351.1M397.68 337.9V352.7M398.20 346.1V352.0M398.72 339.9V353.9M399.24 339.2V353.4M399.76 343.7V352.7M400.29 332.4V352.3M400.81 339.9V354.3M401.33 339.7V351.5M401.85 339.5V354.5M402.37 338.5V351.9M402.89 338.7V367.4M403.42 341.8V354.3M403.94 339.9V353.1M404.46 340.0V353.4M404.98 339.6V351.5M405.50 340.9V353.9M406.03 337.7V351.9M406.55 337.0V352.1M407.07 336.6V352.9M407.59 335.2V352.0M408.11 336.6V354.5M408.63 340.6V351.2M409.16 340.9V354.9M409.68 340.5V354.1M410.20 338.5V356.3M410.72 339.9V353.6M411.24 337.7V355.1M411.77 336.3V360.1M412.29 339.9V353.6M412.81 337.7V351.8M413.33 340.5V357.7M413.85 342.3V361.4M414.37 342.3V355.3M414.90 339.5V353.2M415.42 343.5V351.4M415.94 338.7V353.4M416.46 336.6V356.3M416.98 342.1V351.1M417.51 340.4V357.5M418.03 336.5V355.9M418.55 339.0V358.4M419.07 339.3V354.2M419.59 340.2V351.0M420.11 337.6V354.2M420.64 339.0V354.2M421.16 341.9V352.9M421.68 344.6V360.7M422.20 345.1V357.1M422.72 338.3V351.2M423.25 340.2V351.7M423.77 336.7V351.1M424.29 338.6V365.2M424.81 342.3V355.3M425.33 339.1V351.2M425.85 337.2V361.7M426.38 341.5V351.6M426.90 340.7V353.6M427.42 336.1V360.1M427.94 343.2V356.4M428.46 341.9V355.7M428.99 337.5V365.9M429.51 339.3V351.1M430.03 342.0V357.3M430.55 342.6V354.5M431.07 338.7V356.9M431.59 337.2V353.4M432.12 338.0V350.9M432.64 338.8V358.1M433.16 336.6V353.7M433.68 339.0V355.5M434.20 341.4V352.4M434.73 335.5V352.4M435.25 342.2V357.1M435.77 339.9V354.9M436.29 339.8V354.9M436.81 336.8V356.8M437.33 341.2V364.0M437.86 332.6V352.3M438.38 343.3V352.5M438.90 339.0V351.0M439.42 338.8V354.1M439.94 338.3V356.1M440.47 341.6V352.6M440.99 339.2V357.2M441.51 341.5V352.0M442.03 340.6V356.2M442.55 339.8V352.2M443.07 337.0V355.3M443.60 340.6V359.7M444.12 339.3V351.1M444.64 341.4V361.9M445.16 340.8V358.6M445.68 341.1V352.3M446.21 340.0V350.9M446.73 338.1V358.6M447.25 341.9V354.3M447.77 338.2V353.0M448.29 341.6V352.4M448.81 339.0V353.3M449.34 340.8V352.6M449.86 340.3V351.8M450.38 340.5V353.0M450.90 337.5V355.3M451.42 339.2V354.9M451.95 337.5V352.9M452.47 340.4V357.6M452.99 340.2V355.1M453.51 336.4V351.9M454.03 343.1V351.9M454.56 341.5V353.1M455.08 340.1V357.4M455.60 336.0V351.5M456.12 341.0V353.8M456.64 338.1V351.9M457.16 336.5V354.9M457.69 340.2V352.3M458.21 340.1V351.2M458.73 336.3V354.4M459.25 340.8V356.4M459.77 341.9V354.7M460.30 338.0V356.1M460.82 340.8V358.9M461.34 337.1V353.7M461.86 338.6V351.2M462.38 343.3V354.7M462.90 339.1V351.2M463.43 339.7V352.8M463.95 341.1V351.4M464.47 337.5V352.6M464.99 343.3V351.3M465.51 342.3V352.8M466.04 340.7V355.0M466.56 338.1V352.6M467.08 342.9V353.0M467.60 341.0V353.2M468.12 341.2V351.9M468.64 342.8V351.3M469.17 340.5V353.4M469.69 342.1V351.3M470.21 340.7V358.1M470.73 327.7V353.0M471.25 341.6V351.1M471.78 341.5V362.2M472.30 341.8V352.7M472.82 341.5V353.0M473.34 342.9V353.8M473.86 342.2V351.9M474.38 339.5V352.8M474.91 341.5V351.3M475.43 333.1V355.4M475.95 341.4V351.6M476.47 338.8V358.6M476.99 342.8V350.9M477.52 340.3V353.9M478.04 340.9V354.8M478.56 339.9V353.0M479.08 324.9V358.9M479.60 339.8V352.4M480.12 342.1V353.0M480.65 339.3V351.6M481.17 341.4V353.0M481.69 339.6V351.2M482.21 336.1V356.6M482.73 337.3V355.5M483.26 337.0V350.9M483.78 338.0V350.3M484.30 339.1V352.1M484.82 342.2V353.2M485.34 339.9V351.0M485.86 340.0V350.1M486.39 337.5V352.0M486.91 336.7V352.5M487.43 337.7V350.4M487.95 340.3V354.4M488.47 334.8V356.2M489.00 335.6V350.6M489.52 338.9V354.1M490.04 338.0V353.3M490.56 337.1V350.4M491.08 321.1V353.6M491.60 338.5V349.6M492.13 337.2V349.4M492.65 338.1V349.4M493.17 337.7V352.7M493.69 341.3V350.5M494.21 341.2V350.7M494.74 334.4V350.3M495.26 341.0V354.8M495.78 336.8V349.9M496.30 337.1V349.4M496.82 337.2V351.7M497.34 339.0V352.0M497.87 335.5V351.6M498.39 336.8V356.2M498.91 338.1V353.3M499.43 340.2V350.5M499.95 337.8V349.6M500.48 338.5V352.0M501.00 339.7V348.7M501.52 336.3V353.2M502.04 335.8V349.8M502.56 335.3V354.4M503.08 336.6V348.6M503.61 337.3V348.6M504.13 334.4V348.4M504.65 335.1V349.4M505.17 331.8V352.4M505.69 335.3V351.1M506.22 338.4V352.6M506.74 334.4V349.3M507.26 331.6V352.6M507.78 335.7V348.1M508.30 336.6V348.7M508.82 337.4V349.3M509.35 332.1V357.3M509.87 336.3V349.0M510.39 336.3V349.4M510.91 335.0V347.7M511.43 338.3V352.5M511.96 335.6V350.2M512.48 337.3V346.1M513.00 334.4V346.9M513.52 332.4V352.8M514.04 330.6V347.2M514.57 332.0V347.1M515.09 327.7V342.3M515.61 327.8V339.9M516.13 327.5V337.7M516.65 324.4V337.0M517.17 328.6V354.5M517.70 330.0V342.0M518.22 337.1V343.9M518.74 332.4V353.2M519.26 333.1V347.1M519.78 333.7V347.1M520.31 332.5V346.7M520.83 335.6V346.3M521.35 330.7V349.6M521.87 333.7V352.4M522.39 334.2V348.2M522.91 340.4V347.5M523.44 339.3V348.2M523.96 332.2V350.2M524.48 334.3V348.5M525.00 331.4V359.3M525.52 335.3V346.6M526.05 334.3V347.5M526.57 321.4V345.2M527.09 334.3V346.4M527.61 329.1V346.4M528.13 333.6V345.7M528.65 331.0V343.6M529.18 332.7V346.2M529.70 332.3V350.3M530.22 331.2V346.2M530.74 336.7V346.6M531.26 333.9V356.7M531.79 334.9V350.2M532.31 333.7V348.1M532.83 335.7V349.2M533.35 336.8V361.1M533.87 334.9V347.8M534.39 333.2V349.1M534.92 334.4V349.5M535.44 335.8V349.3M535.96 335.3V354.9M536.48 339.3V349.9M537.00 337.1V348.5M537.53 336.8V348.3M538.05 337.4V351.0M538.57 337.7V350.9M539.09 336.4V359.6M539.61 335.5V348.5M540.13 332.4V353.2M540.66 337.8V348.6M541.18 338.2V348.5M541.70 334.4V361.2" fill="none" stroke="#0000ff" stroke-width="0.65"/><path d="M307.40 339.3V348.2M307.92 338.9V348.5M308.44 339.6V347.8M308.97 340.4V349.1M309.49 339.9V347.8M310.01 340.6V347.8M310.53 336.8V353.3M311.05 337.6V348.9M311.57 339.9V347.8M312.10 340.1V349.9M312.62 338.7V350.6M313.14 338.8V349.1M313.66 330.5V350.0M314.18 340.5V347.8M314.71 339.3V350.9M315.23 338.4V349.7M315.75 341.0V349.1M316.27 339.9V348.9M316.79 341.7V358.7M317.31 340.9V348.2M317.84 341.6V349.2M318.36 339.6V348.6M318.88 340.9V348.5M319.40 339.0V348.7M319.92 339.1V348.3M320.45 339.5V348.9M320.97 342.5V352.2M321.49 340.0V350.1M322.01 339.4V350.1M322.53 339.2V348.1M323.05 341.2V348.0M323.58 339.9V347.8M324.10 340.5V356.5M324.62 340.3V347.8M325.14 337.9V350.1M325.66 340.3V349.0M326.19 334.7V349.7M326.71 338.2V355.2M327.23 340.0V349.4M327.75 339.4V348.7M328.27 339.2V348.8M328.79 339.2V348.9M329.32 340.9V349.5M329.84 339.2V348.2M330.36 337.6V349.5M330.88 341.3V354.5M331.40 338.2V348.4M331.93 335.9V349.9M332.45 340.1V349.0M332.97 336.7V349.1M333.49 338.3V351.4M334.01 340.8V349.6M334.53 339.2V349.0M335.06 338.6V349.5M335.58 339.5V348.8M336.10 338.4V348.2M336.62 339.4V348.8M337.14 338.4V350.1M337.67 337.5V360.9M338.19 340.2V347.8M338.71 339.0V347.8M339.23 339.9V347.8M339.75 339.1V349.1M340.28 340.8V350.3M340.80 340.0V347.8M341.32 339.5V351.9M341.84 338.1V350.1M342.36 337.8V347.9M342.88 341.0V348.7M343.41 340.3V347.8M343.93 338.5V352.8M344.45 341.8V349.7M344.97 339.9V351.8M345.49 339.4V349.0M346.02 337.7V348.5M346.54 338.4V347.8M347.06 339.7V348.0M347.58 339.8V347.9M348.10 339.6V348.6M348.62 337.4V353.4M349.15 339.8V348.0M349.67 339.7V352.6M350.19 338.8V350.2M350.71 339.4V347.7M351.23 339.5V349.4M351.76 340.7V350.5M352.28 339.3V351.6M352.80 339.9V348.5M353.32 337.8V348.1M353.84 338.5V351.9M354.36 339.3V347.8M354.89 338.4V355.0M355.41 339.7V347.9M355.93 338.0V348.3M356.45 339.3V348.2M356.97 325.3V349.0M357.50 340.9V348.1M358.02 338.9V348.4M358.54 341.4V347.8M359.06 341.9V349.9M359.58 339.7V348.0M360.10 340.4V348.0M360.63 339.1V352.9M361.15 336.4V353.8M361.67 340.4V348.7M362.19 340.1V349.8M362.71 339.0V348.3M363.24 338.7V348.0M363.76 339.5V348.1M364.28 339.6V348.2M364.80 338.4V348.5M365.32 338.6V348.0M365.84 329.2V353.3M366.37 339.4V348.3M366.89 339.3V348.0M367.41 340.6V354.5M367.93 339.0V350.9M368.45 340.4V349.2M368.98 338.1V349.0M369.50 327.0V348.0M370.02 339.2V349.7M370.54 340.0V360.6M371.06 338.9V350.8M371.58 341.8V350.9M372.11 340.7V348.6M372.63 338.8V349.6M373.15 342.0V349.4M373.67 338.2V348.5M374.19 341.5V352.4M374.72 338.3V352.4M375.24 340.4V348.1M375.76 338.3V349.9M376.28 339.1V349.7M376.80 341.3V347.8M377.32 337.7V348.0M377.85 337.5V349.3M378.37 339.4V348.6M378.89 339.6V348.3M379.41 339.5V359.8M379.93 340.5V350.2M380.46 337.9V351.7M380.98 340.0V348.7M381.50 339.4V347.8M382.02 340.3V348.6M382.54 340.1V362.5M383.06 340.9V349.1M383.59 337.7V348.2M384.11 339.5V348.1M384.63 338.1V349.2M385.15 339.3V349.0M385.67 340.2V349.8M386.20 339.7V348.4M386.72 340.0V347.8M387.24 339.3V352.7M387.76 339.8V349.9M388.28 339.7V348.2M388.80 341.1V348.5M389.33 340.3V348.8M389.85 337.2V351.5M390.37 340.1V348.2M390.89 340.6V349.1M391.41 338.9V349.6M391.94 337.5V349.0M392.46 341.1V347.7M392.98 339.6V348.7M393.50 340.1V351.2M394.02 341.5V347.9M394.54 338.4V362.4M395.07 339.3V352.9M395.59 339.2V349.9M396.11 340.3V349.2M396.63 338.7V348.1M397.15 340.0V352.3M397.68 339.5V348.7M398.20 340.7V349.5M398.72 340.8V347.8M399.24 337.6V348.9M399.76 339.9V350.2M400.29 338.9V349.4M400.81 333.4V347.8M401.33 339.9V355.7M401.85 339.9V349.4M402.37 338.5V347.7M402.89 339.7V349.6M403.42 339.5V348.9M403.94 339.3V347.9M404.46 337.8V348.0M404.98 338.4V348.7M405.50 338.8V349.7M406.03 340.0V349.6M406.55 341.1V348.9M407.07 338.1V348.1M407.59 338.1V348.5M408.11 339.5V353.7M408.63 338.6V354.2M409.16 338.3V348.3M409.68 338.2V348.3M410.20 338.1V348.3M410.72 339.9V349.0M411.24 337.4V348.0M411.77 340.9V349.1M412.29 338.2V348.9M412.81 338.7V351.0M413.33 338.2V348.0M413.85 336.9V355.5M414.37 337.4V348.6M414.90 340.8V350.0M415.42 341.4V351.1M415.94 338.3V347.8M416.46 340.6V348.2M416.98 339.3V348.9M417.51 338.2V349.8M418.03 341.4V348.7M418.55 342.0V349.3M419.07 339.0V350.6M419.59 339.2V350.3M420.11 339.6V347.8M420.64 339.2V355.5M421.16 332.3V349.7M421.68 341.2V347.9M422.20 339.5V349.0M422.72 340.5V353.0M423.25 341.4V352.6M423.77 338.6V348.8M424.29 339.4V349.8M424.81 338.8V351.6M425.33 340.6V348.6M425.85 340.1V348.7M426.38 340.6V357.9M426.90 340.4V348.0M427.42 339.0V348.5M427.94 340.3V348.1M428.46 338.8V348.3M428.99 338.9V348.8M429.51 336.7V351.9M430.03 341.1V349.0M430.55 338.2V349.1M431.07 339.4V347.7M431.59 339.3V348.6M432.12 341.1V348.2M432.64 339.9V348.0M433.16 338.3V348.6M433.68 339.4V349.7M434.20 339.2V349.0M434.73 339.7V361.3M435.25 337.8V350.9M435.77 339.3V349.6M436.29 342.1V349.3M436.81 340.2V352.7M437.33 341.8V350.3M437.86 343.4V353.6M438.38 340.0V348.2M438.90 337.6V349.2M439.42 339.2V348.3M439.94 340.8V350.8M440.47 340.5V348.4M440.99 337.8V350.2M441.51 339.1V351.2M442.03 339.2V351.4M442.55 339.4V351.1M443.07 339.2V350.3M443.60 338.3V351.9M444.12 338.6V347.9M444.64 339.0V348.3M445.16 340.6V348.6M445.68 338.6V348.1M446.21 340.2V349.9M446.73 337.9V358.6M447.25 340.9V348.6M447.77 339.5V348.1M448.29 339.3V348.5M448.81 341.0V348.9M449.34 337.1V350.6M449.86 337.4V349.3M450.38 339.9V349.4M450.90 338.3V349.1M451.42 338.8V350.2M451.95 342.6V347.7M452.47 339.0V358.7M452.99 339.4V349.1M453.51 331.8V349.2M454.03 340.7V348.3M454.56 339.6V347.8M455.08 339.5V356.0M455.60 337.8V348.1M456.12 338.9V352.2M456.64 339.3V350.2M457.16 337.3V347.8M457.69 340.0V350.5M458.21 339.8V347.8M458.73 333.3V348.4M459.25 337.3V351.4M459.77 338.1V349.8M460.30 338.1V347.7M460.82 338.4V350.7M461.34 339.1V350.2M461.86 339.0V349.4M462.38 339.6V348.7M462.90 339.5V348.6M463.43 339.2V349.5M463.95 337.4V347.8M464.47 338.6V347.8M464.99 339.4V348.9M465.51 340.0V352.2M466.04 340.1V348.2M466.56 337.2V347.8M467.08 338.6V349.1M467.60 339.2V348.2M468.12 339.7V350.6M468.64 340.7V349.3M469.17 339.4V350.0M469.69 338.2V358.3M470.21 339.8V348.6M470.73 339.6V350.8M471.25 339.6V349.6M471.78 339.1V348.9M472.30 341.3V348.0M472.82 339.6V348.8M473.34 331.4V349.7M473.86 338.1V352.0M474.38 340.3V347.8M474.91 338.5V351.0M475.43 337.3V349.6M475.95 339.7V355.6M476.47 340.0V348.5M476.99 339.0V348.4M477.52 339.3V352.2M478.04 340.5V351.4M478.56 338.7V349.5M479.08 336.7V349.7M479.60 339.5V348.5M480.12 339.4V347.9M480.65 340.4V348.3M481.17 338.6V348.1M481.69 340.5V348.5M482.21 340.3V350.0M482.73 337.2V347.7M483.26 339.9V350.0M483.78 337.3V355.0M484.30 336.7V354.4M484.82 338.3V354.2M485.34 337.9V349.0M485.86 336.0V351.2M486.39 338.7V354.0M486.91 339.1V347.8M487.43 340.1V347.9M487.95 338.2V348.7M488.47 336.3V347.2M489.00 334.6V347.4M489.52 339.3V349.0M490.04 339.1V347.4M490.56 338.6V346.5M491.08 337.6V346.8M491.60 338.1V346.4M492.13 337.5V347.0M492.65 337.4V347.2M493.17 338.1V347.7M493.69 337.7V353.1M494.21 337.3V348.2M494.74 337.6V346.5M495.26 336.8V347.7M495.78 335.0V348.9M496.30 336.6V346.1M496.82 337.2V346.0M497.34 339.4V347.4M497.87 336.7V353.3M498.39 339.6V345.7M498.91 338.8V347.3M499.43 335.9V347.6M499.95 336.0V345.7M500.48 337.0V345.4M501.00 339.0V346.1M501.52 337.2V345.3M502.04 337.5V350.1M502.56 335.8V355.4M503.08 316.2V345.8M503.61 336.2V345.2M504.13 337.4V346.0M504.65 337.8V351.9M505.17 336.3V345.9M505.69 336.4V348.1M506.22 337.6V349.1M506.74 335.9V345.5M507.26 337.5V356.0M507.78 334.5V345.0M508.30 334.5V344.3M508.82 334.4V345.5M509.35 320.0V345.4M509.87 334.9V344.6M510.39 335.6V346.6M510.91 335.8V345.5M511.43 335.5V344.0M511.96 336.4V343.4M512.48 336.2V343.0M513.00 332.8V344.5M513.52 333.4V342.1M514.04 331.9V341.6M514.57 329.6V344.4M515.09 331.3V337.6M515.61 327.8V336.3M516.13 323.6V333.8M516.65 300.8V334.4M517.17 328.4V337.9M517.70 328.6V339.4M518.22 331.2V341.7M518.74 334.1V345.3M519.26 334.6V345.4M519.78 332.9V343.0M520.31 333.8V344.0M520.83 337.1V348.0M521.35 333.1V343.5M521.87 334.2V346.6M522.39 333.4V344.9M522.91 335.6V344.6M523.44 335.5V343.6M523.96 336.4V344.9M524.48 331.6V344.8M525.00 334.9V343.7M525.52 332.3V345.3M526.05 334.7V342.6M526.57 333.0V341.7M527.09 334.6V341.0M527.61 332.2V341.8M528.13 329.9V340.0M528.65 307.6V346.4M529.18 330.6V344.1M529.70 332.4V353.7M530.22 332.4V344.7M530.74 334.9V343.6M531.26 335.3V343.5M531.79 335.1V343.7M532.31 336.0V346.0M532.83 336.6V350.8M533.35 336.1V344.2M533.87 337.1V344.8M534.39 337.5V345.2M534.92 336.0V344.9M535.44 334.9V344.8M535.96 338.0V348.7M536.48 336.1V344.7M537.00 337.0V355.2M537.53 337.4V346.1M538.05 335.1V344.6M538.57 336.9V345.8M539.09 334.3V345.9M539.61 337.3V345.0M540.13 335.8V345.5M540.66 336.6V354.6M541.18 337.3V345.0M541.70 335.6V350.0" fill="none" stroke="#ff0000" stroke-width="1.0"/></svg><rect x="307.4" y="294.8" width="234.30" height="76.50" fill="none" stroke="#4a4a4a" stroke-width="1.1"/><line x1="307.40" y1="371.3" x2="307.40" y2="369.3" stroke="#333" stroke-width="0.8"/><line x1="307.40" y1="294.8" x2="307.40" y2="296.8" stroke="#333" stroke-width="0.8"/><text x="307.40" y="379.30" font-size="7.5" text-anchor="middle" fill="#222">0</text><line x1="334.18" y1="371.3" x2="334.18" y2="369.3" stroke="#333" stroke-width="0.8"/><line x1="334.18" y1="294.8" x2="334.18" y2="296.8" stroke="#333" stroke-width="0.8"/><text x="334.18" y="379.30" font-size="7.5" text-anchor="middle" fill="#222">2</text><line x1="360.95" y1="371.3" x2="360.95" y2="369.3" stroke="#333" stroke-width="0.8"/><line x1="360.95" y1="294.8" x2="360.95" y2="296.8" stroke="#333" stroke-width="0.8"/><text x="360.95" y="379.30" font-size="7.5" text-anchor="middle" fill="#222">4</text><line x1="387.73" y1="371.3" x2="387.73" y2="369.3" stroke="#333" stroke-width="0.8"/><line x1="387.73" y1="294.8" x2="387.73" y2="296.8" stroke="#333" stroke-width="0.8"/><text x="387.73" y="379.30" font-size="7.5" text-anchor="middle" fill="#222">6</text><line x1="414.51" y1="371.3" x2="414.51" y2="369.3" stroke="#333" stroke-width="0.8"/><line x1="414.51" y1="294.8" x2="414.51" y2="296.8" stroke="#333" stroke-width="0.8"/><text x="414.51" y="379.30" font-size="7.5" text-anchor="middle" fill="#222">8</text><line x1="441.29" y1="371.3" x2="441.29" y2="369.3" stroke="#333" stroke-width="0.8"/><line x1="441.29" y1="294.8" x2="441.29" y2="296.8" stroke="#333" stroke-width="0.8"/><text x="441.29" y="379.30" font-size="7.5" text-anchor="middle" fill="#222">10</text><line x1="468.06" y1="371.3" x2="468.06" y2="369.3" stroke="#333" stroke-width="0.8"/><line x1="468.06" y1="294.8" x2="468.06" y2="296.8" stroke="#333" stroke-width="0.8"/><text x="468.06" y="379.30" font-size="7.5" text-anchor="middle" fill="#222">12</text><line x1="494.84" y1="371.3" x2="494.84" y2="369.3" stroke="#333" stroke-width="0.8"/><line x1="494.84" y1="294.8" x2="494.84" y2="296.8" stroke="#333" stroke-width="0.8"/><text x="494.84" y="379.30" font-size="7.5" text-anchor="middle" fill="#222">14</text><line x1="521.62" y1="371.3" x2="521.62" y2="369.3" stroke="#333" stroke-width="0.8"/><line x1="521.62" y1="294.8" x2="521.62" y2="296.8" stroke="#333" stroke-width="0.8"/><text x="521.62" y="379.30" font-size="7.5" text-anchor="middle" fill="#222">16</text><line x1="307.4" y1="294.80" x2="309.4" y2="294.80" stroke="#333" stroke-width="0.8"/><line x1="541.7" y1="294.80" x2="539.7" y2="294.80" stroke="#333" stroke-width="0.8"/><text x="305.40" y="297.70" font-size="7.5" text-anchor="end" fill="#222">20</text><line x1="307.4" y1="320.30" x2="309.4" y2="320.30" stroke="#333" stroke-width="0.8"/><line x1="541.7" y1="320.30" x2="539.7" y2="320.30" stroke="#333" stroke-width="0.8"/><text x="305.40" y="323.20" font-size="7.5" text-anchor="end" fill="#222">0</text><line x1="307.4" y1="345.80" x2="309.4" y2="345.80" stroke="#333" stroke-width="0.8"/><line x1="541.7" y1="345.80" x2="539.7" y2="345.80" stroke="#333" stroke-width="0.8"/><text x="305.40" y="348.70" font-size="7.5" text-anchor="end" fill="#222">-20</text><line x1="307.4" y1="371.30" x2="309.4" y2="371.30" stroke="#333" stroke-width="0.8"/><line x1="541.7" y1="371.30" x2="539.7" y2="371.30" stroke="#333" stroke-width="0.8"/><text x="305.40" y="374.20" font-size="7.5" text-anchor="end" fill="#222">-40</text><text x="424.55" y="388.80" font-size="7.2" text-anchor="middle" fill="#222">frequency(GHz)</text><text transform="translate(289.80,333.05) rotate(-90)" font-size="7.2" text-anchor="middle" fill="#222">spectrum(a.u.)</text>
<path d="M402.5 269.2 l0 9 l2.2 -2 l1.6 3.2 l1.2 -0.6 l-1.5 -3.1 l3 -0.2 z" fill="#fff" stroke="#333" stroke-width="0.6"/>
</g>
</svg>
</body></html>
